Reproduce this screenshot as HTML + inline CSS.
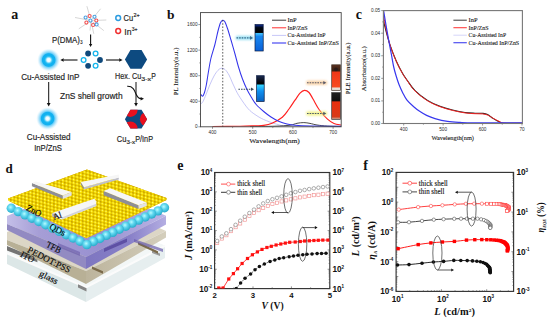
<!DOCTYPE html>
<html><head><meta charset="utf-8"><style>html,body{margin:0;padding:0;background:#fff;width:550px;height:321px;overflow:hidden}svg{display:block}</style></head>
<body><svg width="550" height="321" viewBox="0 0 550 321">
<rect width="550" height="321" fill="#fff"/>
<defs>
<radialGradient id="glow"><stop offset="0" stop-color="#ffffff"/><stop offset="0.15" stop-color="#e8f9ff"/><stop offset="0.3" stop-color="#38c4f4"/><stop offset="0.38" stop-color="#12b2f0"/><stop offset="0.55" stop-color="#12b0f0"/><stop offset="0.63" stop-color="#6ccef8"/><stop offset="0.8" stop-color="#a8e0fa" stop-opacity="0.7"/><stop offset="1" stop-color="#d8f2fe" stop-opacity="0"/></radialGradient>
<radialGradient id="ballg" cx="0.42" cy="0.38" r="0.65"><stop offset="0" stop-color="#b8fcff"/><stop offset="0.4" stop-color="#62d8f0"/><stop offset="1" stop-color="#22a8c8"/></radialGradient>
<radialGradient id="goldb" cx="0.42" cy="0.38" r="0.62"><stop offset="0" stop-color="#ffff90"/><stop offset="0.45" stop-color="#ffe800"/><stop offset="0.85" stop-color="#e8c800"/><stop offset="1" stop-color="#c8a400"/></radialGradient>
<pattern id="goldpat" patternUnits="userSpaceOnUse" width="36" height="34" patternTransform="matrix(0.1 0.025 0 0.1 0 0)"><rect width="36" height="34" fill="#c8a200"/><circle cx="18" cy="17" r="17.5" fill="url(#goldb)"/></pattern>
<linearGradient id="vialblue1" x1="0" y1="0" x2="0" y2="1"><stop offset="0" stop-color="#1030a0"/><stop offset="0.12" stop-color="#000814"/><stop offset="0.3" stop-color="#000"/><stop offset="0.34" stop-color="#40c0ff"/><stop offset="0.45" stop-color="#1888f0"/><stop offset="1" stop-color="#0a60d8"/></linearGradient>
<linearGradient id="vialblue2" x1="0" y1="0" x2="0" y2="1"><stop offset="0" stop-color="#1a2a50"/><stop offset="0.3" stop-color="#000"/><stop offset="0.38" stop-color="#30d0ff"/><stop offset="0.6" stop-color="#1090f0"/><stop offset="1" stop-color="#0860c0"/></linearGradient>
<linearGradient id="vialred1" x1="0" y1="0" x2="0" y2="1"><stop offset="0" stop-color="#5a3020"/><stop offset="0.22" stop-color="#3a2010"/><stop offset="0.3" stop-color="#f03818"/><stop offset="0.85" stop-color="#f84a20"/><stop offset="0.92" stop-color="#e8e0d8"/><stop offset="1" stop-color="#d8d0c8"/></linearGradient>
<linearGradient id="vialred2" x1="0" y1="0" x2="0" y2="1"><stop offset="0" stop-color="#202020"/><stop offset="0.3" stop-color="#101010"/><stop offset="0.35" stop-color="#e83010"/><stop offset="0.9" stop-color="#d83a18"/><stop offset="1" stop-color="#c0b0a0"/></linearGradient>
<linearGradient id="purpR" gradientUnits="userSpaceOnUse" x1="86" y1="0" x2="166" y2="0"><stop offset="0" stop-color="#7e76c0"/><stop offset="0.55" stop-color="#8880c8"/><stop offset="1" stop-color="#b4aee2"/></linearGradient>
<linearGradient id="tanR" gradientUnits="userSpaceOnUse" x1="86" y1="0" x2="166" y2="0"><stop offset="0" stop-color="#bcb49c"/><stop offset="1" stop-color="#d4cebc"/></linearGradient>
<linearGradient id="purpT" gradientUnits="userSpaceOnUse" x1="7" y1="0" x2="166" y2="0"><stop offset="0" stop-color="#c4bfe8"/><stop offset="0.2" stop-color="#a69ed6"/><stop offset="0.6" stop-color="#9890d0"/><stop offset="1" stop-color="#bcb6e6"/></linearGradient>
<filter id="blur1" x="-30%" y="-100%" width="160%" height="300%"><feGaussianBlur stdDeviation="0.9"/></filter>
<clipPath id="clipb"><rect x="200.5" y="12.6" width="140.7" height="114.2"/></clipPath>
<clipPath id="clipc"><rect x="383.4" y="10.6" width="139" height="112.9"/></clipPath>
<clipPath id="clipe"><rect x="214.6" y="172.5" width="115.2" height="116.1"/></clipPath>
</defs>
<text x="11.2" y="18.7" font-family="Liberation Serif" font-weight="bold" font-size="14" fill="#111">a</text>
<line x1="91" y1="20.5" x2="86.9" y2="6.2" stroke="#c4c4c4" stroke-width="0.7"/>
<line x1="91" y1="20.5" x2="100.6" y2="8.75" stroke="#c4c4c4" stroke-width="0.7"/>
<line x1="91" y1="20.5" x2="106.3" y2="20" stroke="#c4c4c4" stroke-width="0.7"/>
<line x1="91" y1="20.5" x2="103.8" y2="30.6" stroke="#c4c4c4" stroke-width="0.7"/>
<line x1="91" y1="20.5" x2="93.8" y2="33.8" stroke="#c4c4c4" stroke-width="0.7"/>
<line x1="91" y1="20.5" x2="90" y2="30.5" stroke="#c4c4c4" stroke-width="0.7"/>
<line x1="91" y1="20.5" x2="78.8" y2="28.8" stroke="#c4c4c4" stroke-width="0.7"/>
<line x1="91" y1="20.5" x2="75" y2="17.5" stroke="#c4c4c4" stroke-width="0.7"/>
<circle cx="85.6" cy="17.5" r="1.55" fill="#fff" stroke="#4aa0e0" stroke-width="1.1"/>
<circle cx="89.6" cy="16" r="1.55" fill="#fff" stroke="#f05050" stroke-width="1.1"/>
<circle cx="94.5" cy="16.8" r="1.55" fill="#fff" stroke="#4aa0e0" stroke-width="1.1"/>
<circle cx="90.4" cy="20.6" r="1.55" fill="#fff" stroke="#4aa0e0" stroke-width="1.1"/>
<circle cx="96.3" cy="20.6" r="1.55" fill="#fff" stroke="#f05050" stroke-width="1.1"/>
<circle cx="86.4" cy="22.6" r="1.55" fill="#fff" stroke="#f05050" stroke-width="1.1"/>
<circle cx="93.1" cy="25" r="1.55" fill="#fff" stroke="#f05050" stroke-width="1.1"/>
<circle cx="96.6" cy="24.4" r="1.55" fill="#fff" stroke="#4aa0e0" stroke-width="1.1"/>
<circle cx="118.2" cy="18" r="2.4" fill="#fff" stroke="#2c9ce0" stroke-width="1.5"/>
<circle cx="118.2" cy="31" r="2.4" fill="#fff" stroke="#f03030" stroke-width="1.5"/>
<line x1="90.6" y1="34.5" x2="90.6" y2="44" stroke="#111" stroke-width="1.1"/><polygon points="90.6,47 88.95,44 92.25,44" fill="#111"/>
<circle cx="88.1" cy="53.5" r="2.9" fill="#104a7c"/>
<circle cx="100" cy="60" r="2.9" fill="#104a7c"/>
<circle cx="88.1" cy="65.8" r="2.9" fill="#104a7c"/>
<circle cx="95.6" cy="53.5" r="2.35" fill="#fff" stroke="#14b4ec" stroke-width="1.3"/>
<circle cx="83.6" cy="60" r="2.35" fill="#fff" stroke="#14b4ec" stroke-width="1.3"/>
<circle cx="95.6" cy="65.8" r="2.35" fill="#fff" stroke="#14b4ec" stroke-width="1.3"/>
<line x1="77.5" y1="60" x2="63.7" y2="60" stroke="#111" stroke-width="1.1"/><polygon points="60.3,60 63.7,58.13 63.7,61.87" fill="#111"/>
<line x1="106" y1="60" x2="119.2" y2="60" stroke="#111" stroke-width="1.1"/><polygon points="122.6,60 119.2,61.87 119.2,58.13" fill="#111"/>
<polygon points="147.1,59.4 141.55,68.72 130.45,68.72 124.9,59.4 130.45,50.08 141.55,50.08" fill="#0d4a80"/>
<circle cx="48.7" cy="60" r="11.5" fill="url(#glow)"/>
<circle cx="47.6" cy="118.6" r="11.5" fill="url(#glow)"/>
<line x1="48.7" y1="82" x2="48.7" y2="103.1" stroke="#111" stroke-width="1.0"/><polygon points="48.7,106.5 46.83,103.1 50.57,103.1" fill="#111"/>
<line x1="136" y1="82" x2="136" y2="103.1" stroke="#111" stroke-width="1.0"/><polygon points="136,106.5 134.13,103.1 137.87,103.1" fill="#111"/>
<path d="M127.2,86.3 C133,86 134.5,90 136,94 C137.5,97.5 139,98.6 141,98.6" fill="none" stroke="#111" stroke-width="1.1"/>
<polygon points="144,98.8 140.6,96.9 140.6,100.6" fill="#111"/>
<clipPath id="hexclip"><polygon points="147.1,119.2 141.55,128.62 130.45,128.62 124.9,119.2 130.45,109.78 141.55,109.78"/></clipPath>
<polygon points="147.1,119.2 141.55,128.62 130.45,128.62 124.9,119.2 130.45,109.78 141.55,109.78" fill="#0d4a80"/>
<g clip-path="url(#hexclip)" fill="#e8101e">
<circle cx="130.45" cy="109.78" r="7.2"/>
<circle cx="147.1" cy="119.2" r="7.2"/>
<circle cx="130.45" cy="128.62" r="7.2"/>
</g>
<text x="123.5" y="20.7" font-family="Liberation Sans" fill="#262626" stroke="#262626" stroke-width="0.18" font-size="8.6" textLength="9.6" lengthAdjust="spacingAndGlyphs">Cu</text>
<text x="133.4" y="17.2" font-family="Liberation Sans" fill="#262626" stroke="#262626" stroke-width="0.18" font-size="5" textLength="6.2" lengthAdjust="spacingAndGlyphs">2+</text>
<text x="124.3" y="34.5" font-family="Liberation Sans" fill="#262626" stroke="#262626" stroke-width="0.18" font-size="8.6" textLength="7.2" lengthAdjust="spacingAndGlyphs">In</text>
<text x="131.8" y="31" font-family="Liberation Sans" fill="#262626" stroke="#262626" stroke-width="0.18" font-size="5" textLength="5.8" lengthAdjust="spacingAndGlyphs">3+</text>
<text x="52" y="43.1" font-family="Liberation Sans" fill="#262626" stroke="#262626" stroke-width="0.18" font-size="8.6" textLength="28" lengthAdjust="spacingAndGlyphs">P(DMA)</text>
<text x="80.2" y="44.2" font-family="Liberation Sans" fill="#262626" stroke="#262626" stroke-width="0.18" font-size="5" textLength="2.3" lengthAdjust="spacingAndGlyphs">3</text>
<text x="21.2" y="79.5" font-family="Liberation Sans" fill="#262626" stroke="#262626" stroke-width="0.18" font-size="8.6" textLength="58.2" lengthAdjust="spacingAndGlyphs">Cu-Assisted InP</text>
<text x="115.1" y="79.2" font-family="Liberation Sans" fill="#262626" stroke="#262626" stroke-width="0.18" font-size="8.6" textLength="26.1" lengthAdjust="spacingAndGlyphs">Hex. Cu</text>
<text x="141.3" y="80.6" font-family="Liberation Sans" fill="#262626" stroke="#262626" stroke-width="0.18" font-size="5" textLength="9.8" lengthAdjust="spacingAndGlyphs">3-x</text>
<text x="151.3" y="79.2" font-family="Liberation Sans" fill="#262626" stroke="#262626" stroke-width="0.18" font-size="8.6" textLength="4.6" lengthAdjust="spacingAndGlyphs">P</text>
<text x="60" y="99.2" font-family="Liberation Sans" fill="#262626" stroke="#262626" stroke-width="0.18" font-size="8.6" textLength="62.6" lengthAdjust="spacingAndGlyphs">ZnS shell growth</text>
<text x="26.8" y="139.9" font-family="Liberation Sans" fill="#262626" stroke="#262626" stroke-width="0.18" font-size="8.6" textLength="43.6" lengthAdjust="spacingAndGlyphs">Cu-Assisted</text>
<text x="34.2" y="151.4" font-family="Liberation Sans" fill="#262626" stroke="#262626" stroke-width="0.18" font-size="8.6" textLength="27.8" lengthAdjust="spacingAndGlyphs">InP/ZnS</text>
<text x="116.8" y="142.4" font-family="Liberation Sans" fill="#262626" stroke="#262626" stroke-width="0.18" font-size="8.6" textLength="9.6" lengthAdjust="spacingAndGlyphs">Cu</text>
<text x="126.5" y="144.3" font-family="Liberation Sans" fill="#262626" stroke="#262626" stroke-width="0.18" font-size="5" textLength="8.6" lengthAdjust="spacingAndGlyphs">3-x</text>
<text x="135.2" y="142.4" font-family="Liberation Sans" fill="#262626" stroke="#262626" stroke-width="0.18" font-size="8.6" textLength="17.8" lengthAdjust="spacingAndGlyphs">P/InP</text>
<text x="167" y="18.7" font-family="Liberation Serif" font-weight="bold" font-size="13.5" fill="#111">b</text>
<line x1="198.3" y1="126.8" x2="200.5" y2="126.8" stroke="#555" stroke-width="0.6"/>
<text x="197.5" y="128.3" font-family="Liberation Sans" font-size="4.7" fill="#2a2a2a" text-anchor="end">0</text>
<line x1="198.3" y1="101.25" x2="200.5" y2="101.25" stroke="#555" stroke-width="0.6"/>
<text x="197.5" y="102.75" font-family="Liberation Sans" font-size="4.7" fill="#2a2a2a" text-anchor="end">400</text>
<line x1="198.3" y1="75.7" x2="200.5" y2="75.7" stroke="#555" stroke-width="0.6"/>
<text x="197.5" y="77.2" font-family="Liberation Sans" font-size="4.7" fill="#2a2a2a" text-anchor="end">800</text>
<line x1="198.3" y1="50.14" x2="200.5" y2="50.14" stroke="#555" stroke-width="0.6"/>
<text x="197.5" y="51.64" font-family="Liberation Sans" font-size="4.7" fill="#2a2a2a" text-anchor="end">1200</text>
<line x1="198.3" y1="24.59" x2="200.5" y2="24.59" stroke="#555" stroke-width="0.6"/>
<text x="197.5" y="26.09" font-family="Liberation Sans" font-size="4.7" fill="#2a2a2a" text-anchor="end">1600</text>
<line x1="199.2" y1="114.02" x2="200.5" y2="114.02" stroke="#555" stroke-width="0.5"/>
<line x1="199.2" y1="88.47" x2="200.5" y2="88.47" stroke="#555" stroke-width="0.5"/>
<line x1="199.2" y1="62.92" x2="200.5" y2="62.92" stroke="#555" stroke-width="0.5"/>
<line x1="199.2" y1="37.37" x2="200.5" y2="37.37" stroke="#555" stroke-width="0.5"/>
<line x1="212.5" y1="126.8" x2="212.5" y2="128.8" stroke="#555" stroke-width="0.6"/>
<text x="212.5" y="133.6" font-family="Liberation Sans" font-size="4.7" fill="#2a2a2a" text-anchor="middle">400</text>
<line x1="252.7" y1="126.8" x2="252.7" y2="128.8" stroke="#555" stroke-width="0.6"/>
<text x="252.7" y="133.6" font-family="Liberation Sans" font-size="4.7" fill="#2a2a2a" text-anchor="middle">500</text>
<line x1="292.9" y1="126.8" x2="292.9" y2="128.8" stroke="#555" stroke-width="0.6"/>
<text x="292.9" y="133.6" font-family="Liberation Sans" font-size="4.7" fill="#2a2a2a" text-anchor="middle">600</text>
<line x1="333.1" y1="126.8" x2="333.1" y2="128.8" stroke="#555" stroke-width="0.6"/>
<text x="333.1" y="133.6" font-family="Liberation Sans" font-size="4.7" fill="#2a2a2a" text-anchor="middle">700</text>
<line x1="232.6" y1="126.8" x2="232.6" y2="128.1" stroke="#555" stroke-width="0.5"/>
<line x1="272.8" y1="126.8" x2="272.8" y2="128.1" stroke="#555" stroke-width="0.5"/>
<line x1="313" y1="126.8" x2="313" y2="128.1" stroke="#555" stroke-width="0.5"/>
<text x="249.3" y="143.2" font-family="Liberation Serif" font-size="6" fill="#1a1a1a" stroke="#1a1a1a" stroke-width="0.1" textLength="50.5" lengthAdjust="spacingAndGlyphs">Wavelength(nm)</text>
<text transform="translate(178.3,71.4) rotate(-90)" font-family="Liberation Serif" font-size="6" fill="#1a1a1a" stroke="#1a1a1a" stroke-width="0.1" text-anchor="middle" textLength="47.8" lengthAdjust="spacingAndGlyphs">PL Intensity(a.u.)</text>
<text transform="translate(349.6,68.4) rotate(-90)" font-family="Liberation Serif" font-size="6" fill="#1a1a1a" stroke="#1a1a1a" stroke-width="0.1" text-anchor="middle" textLength="51.8" lengthAdjust="spacingAndGlyphs">PLE Intensity(a.u.)</text>
<g fill="none" clip-path="url(#clipb)">
<path d="M200.6,104.2 C201,103.75 202.1,103.12 203,101.5 C203.9,99.88 204.83,97.33 206,94.5 C207.17,91.67 208.67,87.58 210,84.5 C211.33,81.42 212.67,78.37 214,76 C215.33,73.63 216.78,71.58 218,70.3 C219.22,69.02 220.13,68.43 221.3,68.3 C222.47,68.17 223.72,68.38 225,69.5 C226.28,70.62 227.75,72.75 229,75 C230.25,77.25 231.33,80.42 232.5,83 C233.67,85.58 234.75,88.08 236,90.5 C237.25,92.92 238,94.48 240,97.5 C242,100.52 245.5,105.77 248,108.6 C250.5,111.43 252.38,112.68 255,114.5 C257.62,116.32 260.08,117.88 263.7,119.5 C267.32,121.12 272.32,123.12 276.7,124.2 C281.08,125.28 279.28,125.63 290,126 C300.72,126.37 332.5,126.33 341,126.4" stroke="#b8b8f4" stroke-width="0.8"/>
<path d="M250,126.5 C254.17,126.45 268.33,126.42 275,126.2 C281.67,125.98 286.33,125.68 290,125.2 C293.67,124.72 294.7,123.73 297,123.3 C299.3,122.87 301.63,122.58 303.8,122.6 C305.97,122.62 307.8,123 310,123.4 C312.2,123.8 314.08,124.55 317,125 C319.92,125.45 323.5,125.85 327.5,126.1 C331.5,126.35 338.75,126.43 341,126.5" stroke="#333" stroke-width="0.9"/>
<path d="M212.5,126.5 C217.08,126.47 232.92,126.42 240,126.3 C247.08,126.18 251.05,125.95 255,125.8 C258.95,125.65 260.87,125.83 263.7,125.4 C266.53,124.97 268.9,124.57 272,123.2 C275.1,121.83 279.47,119.57 282.3,117.2 C285.13,114.83 286.88,111.83 289,109 C291.12,106.17 293.17,102.83 295,100.2 C296.83,97.57 298.42,94.83 300,93.2 C301.58,91.57 303,90.52 304.5,90.4 C306,90.28 307.58,91.07 309,92.5 C310.42,93.93 311.27,96.08 313,99 C314.73,101.92 316.98,106.63 319.4,110 C321.82,113.37 325.07,116.95 327.5,119.2 C329.93,121.45 331.75,122.53 334,123.5 C336.25,124.47 339.83,124.75 341,125" stroke="#ff2020" stroke-width="1.15"/>
<path d="M200.6,94 C200.92,94.38 201.85,96.55 202.5,96.3 C203.15,96.05 203.87,94.38 204.5,92.5 C205.13,90.62 205.65,88.42 206.3,85 C206.95,81.58 207.62,76.5 208.4,72 C209.18,67.5 209.92,62.58 211,58 C212.08,53.42 213.73,49 214.9,44.5 C216.07,40 217.07,34.62 218,31 C218.93,27.38 219.73,24.58 220.5,22.8 C221.27,21.02 221.9,20.52 222.6,20.3 C223.3,20.08 223.88,20.13 224.7,21.5 C225.52,22.87 226.45,25.42 227.5,28.5 C228.55,31.58 229.75,35.75 231,40 C232.25,44.25 233.75,49.5 235,54 C236.25,58.5 237.25,62.83 238.5,67 C239.75,71.17 241.08,75.25 242.5,79 C243.92,82.75 245.5,86.42 247,89.5 C248.5,92.58 249.97,95 251.5,97.5 C253.03,100 254.17,102.17 256.2,104.5 C258.23,106.83 261.23,109.42 263.7,111.5 C266.17,113.58 268.52,115.38 271,117 C273.48,118.62 275.93,120.03 278.6,121.2 C281.27,122.37 284.27,123.32 287,124 C289.73,124.68 291.17,124.97 295,125.3 C298.83,125.63 302.33,125.83 310,126 C317.67,126.17 335.83,126.25 341,126.3" stroke="#3434ea" stroke-width="1.05"/>
</g>
<line x1="222.75" y1="20" x2="222.75" y2="126.8" stroke="#333" stroke-width="0.8" stroke-dasharray="1.6,1.6"/>
<rect x="200.5" y="12.6" width="140.7" height="114.2" fill="none" stroke="#444" stroke-width="0.9"/>
<line x1="272" y1="20.2" x2="286.2" y2="20.2" stroke="#222" stroke-width="0.9"/>
<line x1="272" y1="27.8" x2="286.2" y2="27.8" stroke="#ff3030" stroke-width="1"/>
<line x1="272" y1="35.4" x2="286.2" y2="35.4" stroke="#c8c8f8" stroke-width="1"/>
<line x1="272" y1="43" x2="286.2" y2="43" stroke="#3a3af0" stroke-width="1.1"/>
<text x="287.6" y="22" font-family="Liberation Serif" font-size="5.3" fill="#1a1a1a" stroke="#1a1a1a" stroke-width="0.1" textLength="9" lengthAdjust="spacingAndGlyphs">InP</text>
<text x="287.6" y="29.6" font-family="Liberation Serif" font-size="5.3" fill="#1a1a1a" stroke="#1a1a1a" stroke-width="0.1" textLength="20" lengthAdjust="spacingAndGlyphs">InP/ZnS</text>
<text x="287.6" y="37.3" font-family="Liberation Serif" font-size="5.3" fill="#1a1a1a" stroke="#1a1a1a" stroke-width="0.1" textLength="38" lengthAdjust="spacingAndGlyphs">Cu-Assisted InP</text>
<text x="287.6" y="44.8" font-family="Liberation Serif" font-size="5.3" fill="#1a1a1a" stroke="#1a1a1a" stroke-width="0.1" textLength="51.2" lengthAdjust="spacingAndGlyphs">Cu-Assisted InP/ZnS</text>
<rect x="255" y="24.5" width="8.2" height="26.5" fill="url(#vialblue1)" stroke="#0a1a40" stroke-width="0.7"/>
<rect x="256.6" y="75.7" width="7.6" height="25.8" fill="url(#vialblue2)" stroke="#0a1a40" stroke-width="0.7"/>
<rect x="331.7" y="64.8" width="8.7" height="25.6" fill="url(#vialred1)" stroke="#4a3a30" stroke-width="0.7"/>
<circle cx="336" cy="69.3" r="1.9" fill="#2a1a1a"/>
<rect x="331.7" y="92.6" width="8.7" height="26.8" fill="url(#vialred2)" stroke="#3a3a3a" stroke-width="0.7"/>
<rect x="235.5" y="35.7" width="18.5" height="4.4" rx="2" fill="#80d8f0" opacity="0.75" filter="url(#blur1)"/><line x1="236.5" y1="37.9" x2="250.5" y2="37.9" stroke="#3a6a8a" stroke-width="1.1" stroke-dasharray="1.6,1"/><polygon points="253,37.9 250,36.1 250,39.7" fill="#3a6a8a"/>
<line x1="238.4" y1="89.2" x2="251.5" y2="89.2" stroke="#3a4a5a" stroke-width="1.1" stroke-dasharray="1.6,1"/><polygon points="254,89.2 251,87.4 251,91" fill="#3a4a5a"/>
<rect x="306" y="80.5" width="21.3" height="4.4" rx="2" fill="#f8c890" opacity="0.75" filter="url(#blur1)"/><line x1="307" y1="82.7" x2="323.8" y2="82.7" stroke="#5a5a6a" stroke-width="1.1" stroke-dasharray="1.6,1"/><polygon points="326.3,82.7 323.3,80.9 323.3,84.5" fill="#5a5a6a"/>
<rect x="306" y="111.3" width="21.3" height="4.4" rx="2" fill="#f0f070" opacity="0.75" filter="url(#blur1)"/><line x1="307" y1="113.5" x2="323.8" y2="113.5" stroke="#4a5a6a" stroke-width="1.1" stroke-dasharray="1.6,1"/><polygon points="326.3,113.5 323.3,111.7 323.3,115.3" fill="#4a5a6a"/>
<text x="355.7" y="18.9" font-family="Liberation Serif" font-weight="bold" font-size="14" fill="#111">c</text>
<line x1="381.2" y1="123.5" x2="383.4" y2="123.5" stroke="#555" stroke-width="0.6"/>
<text x="380.2" y="125" font-family="Liberation Sans" font-size="4.7" fill="#2a2a2a" text-anchor="end">0.00</text>
<line x1="382.09999999999997" y1="112.21" x2="383.4" y2="112.21" stroke="#555" stroke-width="0.5"/>
<line x1="381.2" y1="100.92" x2="383.4" y2="100.92" stroke="#555" stroke-width="0.6"/>
<text x="380.2" y="102.42" font-family="Liberation Sans" font-size="4.7" fill="#2a2a2a" text-anchor="end">0.01</text>
<line x1="382.09999999999997" y1="89.63" x2="383.4" y2="89.63" stroke="#555" stroke-width="0.5"/>
<line x1="381.2" y1="78.34" x2="383.4" y2="78.34" stroke="#555" stroke-width="0.6"/>
<text x="380.2" y="79.84" font-family="Liberation Sans" font-size="4.7" fill="#2a2a2a" text-anchor="end">0.02</text>
<line x1="382.09999999999997" y1="67.05" x2="383.4" y2="67.05" stroke="#555" stroke-width="0.5"/>
<line x1="381.2" y1="55.76" x2="383.4" y2="55.76" stroke="#555" stroke-width="0.6"/>
<text x="380.2" y="57.26" font-family="Liberation Sans" font-size="4.7" fill="#2a2a2a" text-anchor="end">0.03</text>
<line x1="382.09999999999997" y1="44.47" x2="383.4" y2="44.47" stroke="#555" stroke-width="0.5"/>
<line x1="381.2" y1="33.18" x2="383.4" y2="33.18" stroke="#555" stroke-width="0.6"/>
<text x="380.2" y="34.68" font-family="Liberation Sans" font-size="4.7" fill="#2a2a2a" text-anchor="end">0.04</text>
<line x1="382.09999999999997" y1="21.89" x2="383.4" y2="21.89" stroke="#555" stroke-width="0.5"/>
<line x1="381.2" y1="10.6" x2="383.4" y2="10.6" stroke="#555" stroke-width="0.6"/>
<text x="380.2" y="12.1" font-family="Liberation Sans" font-size="4.7" fill="#2a2a2a" text-anchor="end">0.05</text>
<line x1="403.7" y1="123.5" x2="403.7" y2="125.5" stroke="#555" stroke-width="0.6"/>
<text x="403.7" y="130.5" font-family="Liberation Sans" font-size="4.7" fill="#2a2a2a" text-anchor="middle">400</text>
<line x1="443.13" y1="123.5" x2="443.13" y2="125.5" stroke="#555" stroke-width="0.6"/>
<text x="443.13" y="130.5" font-family="Liberation Sans" font-size="4.7" fill="#2a2a2a" text-anchor="middle">500</text>
<line x1="482.56" y1="123.5" x2="482.56" y2="125.5" stroke="#555" stroke-width="0.6"/>
<text x="482.56" y="130.5" font-family="Liberation Sans" font-size="4.7" fill="#2a2a2a" text-anchor="middle">600</text>
<line x1="521.99" y1="123.5" x2="521.99" y2="125.5" stroke="#555" stroke-width="0.6"/>
<text x="521.99" y="130.5" font-family="Liberation Sans" font-size="4.7" fill="#2a2a2a" text-anchor="middle">70</text>
<line x1="423.41" y1="123.5" x2="423.41" y2="124.8" stroke="#555" stroke-width="0.5"/>
<line x1="462.84" y1="123.5" x2="462.84" y2="124.8" stroke="#555" stroke-width="0.5"/>
<line x1="502.27" y1="123.5" x2="502.27" y2="124.8" stroke="#555" stroke-width="0.5"/>
<text x="431.4" y="140" font-family="Liberation Serif" font-size="6" fill="#1a1a1a" stroke="#1a1a1a" stroke-width="0.1" textLength="42.6" lengthAdjust="spacingAndGlyphs">Wavelength(nm)</text>
<text transform="translate(365.8,68.7) rotate(-90)" font-family="Liberation Serif" font-size="6" fill="#1a1a1a" stroke="#1a1a1a" stroke-width="0.1" text-anchor="middle" textLength="45" lengthAdjust="spacingAndGlyphs">Absorbance(a.u.)</text>
<g fill="none" clip-path="url(#clipc)">
<path d="M383.5,21 C383.92,22.67 384.92,27 386,31 C387.08,35 388.29,40 390,45 C391.71,50 394.17,56.3 396.25,61 C398.33,65.7 400.62,69.92 402.5,73.2 C404.38,76.48 405.42,77.8 407.5,80.7 C409.58,83.6 411.67,87.32 415,90.6 C418.33,93.88 423.33,97.78 427.5,100.4 C431.67,103.02 435.83,104.7 440,106.3 C444.17,107.9 448.33,108.97 452.5,110 C456.67,111.03 461.25,111.97 465,112.5 C468.75,113.03 472.08,113.07 475,113.2 C477.92,113.33 480.42,113.1 482.5,113.3 C484.58,113.5 485.75,113.55 487.5,114.4 C489.25,115.25 491.08,117.17 493,118.4 C494.92,119.63 497.17,121 499,121.8 C500.83,122.6 500.1,122.97 504,123.2 C507.9,123.43 519.33,123.2 522.4,123.2" stroke="#222" stroke-width="1.1"/>
<path d="M383.8,16 C384.17,18.17 384.97,24.17 386,29 C387.03,33.83 388.29,39.62 390,45 C391.71,50.38 394.17,56.5 396.25,61.25 C398.33,66 400.62,70.21 402.5,73.5 C404.38,76.79 405.42,78.08 407.5,81 C409.58,83.92 411.67,87.7 415,91 C418.33,94.3 423.33,98.18 427.5,100.8 C431.67,103.42 435.83,105.1 440,106.7 C444.17,108.3 448.33,109.37 452.5,110.4 C456.67,111.43 461.25,112.35 465,112.9 C468.75,113.45 472.08,113.53 475,113.7 C477.92,113.87 480.42,113.68 482.5,113.9 C484.58,114.12 485.62,114.22 487.5,115 C489.38,115.78 491.67,117.47 493.75,118.6 C495.83,119.73 498.12,121.03 500,121.8 C501.88,122.57 501.27,122.97 505,123.2 C508.73,123.43 519.5,123.2 522.4,123.2" stroke="#f02020" stroke-width="1.0"/>
<path d="M383.6,10.6 C384,13 385.07,19.6 386,25 C386.93,30.4 388.28,38 389.2,43 C390.12,48 390.77,51.08 391.5,55 C392.23,58.92 392.85,63.08 393.6,66.5 C394.35,69.92 395.1,72.5 396,75.5 C396.9,78.5 397.87,81.6 399,84.5 C400.13,87.4 401.47,90.28 402.8,92.9 C404.13,95.52 405.23,97.93 407,100.2 C408.77,102.47 411.23,104.6 413.4,106.5 C415.57,108.4 417.8,110.12 420,111.6 C422.2,113.08 424.1,114.23 426.6,115.4 C429.1,116.57 431.52,117.6 435,118.6 C438.48,119.6 443.33,120.77 447.5,121.4 C451.67,122.03 455.42,122.17 460,122.4 C464.58,122.63 464.6,122.72 475,122.8 C485.4,122.88 514.5,122.88 522.4,122.9" stroke="#3838ee" stroke-width="1.2"/>
</g>
<rect x="383.4" y="10.6" width="139" height="112.9" fill="none" stroke="#777" stroke-width="1.1"/>
<line x1="453.4" y1="20.2" x2="466.8" y2="20.2" stroke="#222" stroke-width="0.9"/>
<line x1="453.4" y1="27.7" x2="466.8" y2="27.7" stroke="#ff4040" stroke-width="1.1"/>
<line x1="453.4" y1="35.2" x2="466.8" y2="35.2" stroke="#d0d0f8" stroke-width="0.9"/>
<line x1="453.4" y1="42.7" x2="466.8" y2="42.7" stroke="#5050f0" stroke-width="1.2"/>
<text x="468.6" y="22" font-family="Liberation Serif" font-size="5.3" fill="#1a1a1a" stroke="#1a1a1a" stroke-width="0.1" textLength="9" lengthAdjust="spacingAndGlyphs">InP</text>
<text x="468.6" y="29.6" font-family="Liberation Serif" font-size="5.3" fill="#1a1a1a" stroke="#1a1a1a" stroke-width="0.1" textLength="20" lengthAdjust="spacingAndGlyphs">InP/ZnS</text>
<text x="468.6" y="37.2" font-family="Liberation Serif" font-size="5.3" fill="#1a1a1a" stroke="#1a1a1a" stroke-width="0.1" textLength="37.5" lengthAdjust="spacingAndGlyphs">Cu-Assisted InP</text>
<text x="468.6" y="44.6" font-family="Liberation Serif" font-size="5.3" fill="#1a1a1a" stroke="#1a1a1a" stroke-width="0.1" textLength="50.6" lengthAdjust="spacingAndGlyphs">Cu-Assisted InP/ZnS</text>
<text x="5.6" y="173.4" font-family="Liberation Serif" font-weight="bold" font-size="13" fill="#111">d</text>
<polygon points="7,251 86,214 165,245.5 86,287 7,253" fill="#f3f7f7" />
<polygon points="7,253 86,287 86,302 7,264" fill="#dce7e7" />
<polygon points="86,287 165,245.5 165,258 86,302" fill="#e6eeef" />
<polyline points="7,253.2 86,287.4 165,245.9" fill="none" stroke="#fbfbfb" stroke-width="2.2"/>
<polygon points="7,246 37.4,258.6 37.4,262.2 7,250.5" fill="#747474" />
<polygon points="78,284.3 86.5,288.2 86.5,291.5 78,287.6" fill="#858585" />
<polygon points="152,250.5 160,253.5 160,256 152,253" fill="#9a9a9a" />
<polygon points="7,232 87,196 166,231 86,271 7,240" fill="#dcd6c6" />
<polygon points="7,240 86,271 86,284 7,245" fill="#b8b096" />
<polygon points="86,271 166,231 166,237.5 86,284" fill="url(#tanR)" />
<polygon points="92,266.5 103,271.3 103,273.8 92,269" fill="#7a6a4a" />
<polygon points="138,242 158,251.3 158,253.8 138,244.5" fill="#7a6a4a" />
<polygon points="40,252 70,265 70,267.5 40,254.5" fill="#9a9280" opacity="0.5"/>
<polygon points="7,216 87,182 166,215.7 86,257 7,224" fill="url(#purpT)" />
<polygon points="7,224 86,257 86,269 7,230" fill="#928ac2" />
<polygon points="86,257 166,215.7 166,224.4 86,269" fill="url(#purpR)" />
<polygon points="104,248.5 127,238.5 127,242 104,252" fill="#5e50a4" />
<polygon points="134,239 163,249 163,252 134,242" fill="#6a5cac" opacity="0.7"/>
<polygon points="58,243 80,252 80,256 58,247" fill="#6a5ca8" opacity="0.6"/>
<circle cx="164.5" cy="207.8" r="4.7" fill="url(#ballg)"/>
<circle cx="11.3" cy="208.3" r="4.7" fill="url(#ballg)"/>
<circle cx="158.03" cy="210.87" r="4.7" fill="url(#ballg)"/>
<circle cx="18.17" cy="211.6" r="4.7" fill="url(#ballg)"/>
<circle cx="151.57" cy="213.93" r="4.7" fill="url(#ballg)"/>
<circle cx="25.05" cy="214.9" r="4.7" fill="url(#ballg)"/>
<circle cx="145.1" cy="217" r="4.7" fill="url(#ballg)"/>
<circle cx="31.92" cy="218.2" r="4.7" fill="url(#ballg)"/>
<circle cx="138.63" cy="220.07" r="4.7" fill="url(#ballg)"/>
<circle cx="38.79" cy="221.5" r="4.7" fill="url(#ballg)"/>
<circle cx="132.17" cy="223.13" r="4.7" fill="url(#ballg)"/>
<circle cx="45.66" cy="224.8" r="4.7" fill="url(#ballg)"/>
<circle cx="125.7" cy="226.2" r="4.7" fill="url(#ballg)"/>
<circle cx="52.54" cy="228.1" r="4.7" fill="url(#ballg)"/>
<circle cx="119.23" cy="229.27" r="4.7" fill="url(#ballg)"/>
<circle cx="59.41" cy="231.4" r="4.7" fill="url(#ballg)"/>
<circle cx="112.77" cy="232.33" r="4.7" fill="url(#ballg)"/>
<circle cx="66.28" cy="234.7" r="4.7" fill="url(#ballg)"/>
<circle cx="106.3" cy="235.4" r="4.7" fill="url(#ballg)"/>
<circle cx="73.15" cy="238" r="4.7" fill="url(#ballg)"/>
<circle cx="99.83" cy="238.47" r="4.7" fill="url(#ballg)"/>
<circle cx="80.03" cy="241.3" r="4.7" fill="url(#ballg)"/>
<circle cx="93.37" cy="241.53" r="4.7" fill="url(#ballg)"/>
<circle cx="86.9" cy="244.6" r="4.7" fill="url(#ballg)"/>
<polygon points="87,169.4 166.5,198 166.5,200 86.3,238.3 8,200.5 8,198.5" fill="#c89400" />
<polygon points="87,169.4 166.5,198 166.5,200 86.3,238.3 8,200.5 8,198.5" fill="url(#goldpat)" />
<polygon points="32,183 62.9,195.6 62.9,199.1 31.9,186.2" fill="#8e8e96" />
<polygon points="32,183 36,181.4 71.6,192.1 62.9,195.6" fill="#f6f6f6" />
<polygon points="62.9,195.6 71.6,192.1 71.6,195.6 62.9,199.1" fill="#e2e2e6" />
<polygon points="84,187.3 118.8,177.4 118.8,179.4 84,189.6" fill="#c0c0c8" />
<polygon points="80.8,182 84,187.3 84,189.6 80.8,184.6" fill="#8e8e96" />
<polygon points="80.8,182 118.8,174.5 118.8,177.4 84,187.3" fill="#f6f6f6" />
<polygon points="103.7,191.1 138.6,205.3 138.6,209 103.7,195.2" fill="#8e8e96" />
<polygon points="103.7,191.1 110.3,188.3 146.7,202.5 138.6,205.3" fill="#f6f6f6" />
<polygon points="138.6,205.3 146.7,202.5 146.7,206 138.6,209" fill="#e2e2e6" />
<polygon points="52.3,213 94.3,198.8 96.2,201.3 96.2,205.9 61.7,219.6 52.3,216.2" fill="#f6f6f6" />
<polygon points="61.7,217.4 96.2,203.8 96.2,205.9 61.7,219.6" fill="#d4d4da" />
<polygon points="52.3,213 56,214.8 56,218.3 52.3,216.2" fill="#a8a8b0" />
<text transform="translate(32.6,213.4) rotate(27)" font-family="Liberation Serif" font-size="9" fill="#0a0a0a" stroke="#0a0a0a" stroke-width="0.15" text-anchor="middle" textLength="16" lengthAdjust="spacingAndGlyphs">ZnO</text>
<text transform="translate(58.2,218.6) rotate(-19)" font-family="Liberation Serif" font-size="9" fill="#0a0a0a" stroke="#0a0a0a" stroke-width="0.15" text-anchor="middle" textLength="9" lengthAdjust="spacingAndGlyphs">Al</text>
<text transform="translate(56.2,232.4) rotate(27)" font-family="Liberation Serif" font-size="9" fill="#0a0a0a" stroke="#0a0a0a" stroke-width="0.15" text-anchor="middle" textLength="17" lengthAdjust="spacingAndGlyphs">QDs</text>
<text transform="translate(52.4,250) rotate(27)" font-family="Liberation Serif" font-size="9" fill="#0a0a0a" stroke="#0a0a0a" stroke-width="0.15" text-anchor="middle" textLength="15.5" lengthAdjust="spacingAndGlyphs">TFB</text>
<text transform="translate(47.8,262.5) rotate(27)" font-family="Liberation Serif" font-size="9" fill="#0a0a0a" stroke="#0a0a0a" stroke-width="0.15" text-anchor="middle" textLength="47" lengthAdjust="spacingAndGlyphs">PEDOT:PSS</text>
<text transform="translate(26.2,259.6) rotate(27)" font-family="Liberation Serif" font-size="9" fill="#0a0a0a" stroke="#0a0a0a" stroke-width="0.15" text-anchor="middle" textLength="14.5" lengthAdjust="spacingAndGlyphs">ITO</text>
<text transform="translate(47.4,280) rotate(27)" font-family="Liberation Serif" font-size="9" fill="#0a0a0a" stroke="#0a0a0a" stroke-width="0.15" text-anchor="middle" textLength="20" lengthAdjust="spacingAndGlyphs">glass</text>
<text x="177.2" y="169.5" font-family="Liberation Serif" font-weight="bold" font-size="14" fill="#111">e</text>
<rect x="214.6" y="172.5" width="115.2" height="116.1" fill="none" stroke="#333" stroke-width="1.15"/>
<line x1="214.6" y1="288.6" x2="216.8" y2="288.6" stroke="#444" stroke-width="0.55"/>
<line x1="329.8" y1="288.6" x2="327.6" y2="288.6" stroke="#444" stroke-width="0.55"/>
<line x1="214.6" y1="282.78" x2="215.8" y2="282.78" stroke="#444" stroke-width="0.55"/>
<line x1="329.8" y1="282.78" x2="328.6" y2="282.78" stroke="#444" stroke-width="0.55"/>
<line x1="214.6" y1="279.37" x2="215.8" y2="279.37" stroke="#444" stroke-width="0.55"/>
<line x1="329.8" y1="279.37" x2="328.6" y2="279.37" stroke="#444" stroke-width="0.55"/>
<line x1="214.6" y1="276.95" x2="215.8" y2="276.95" stroke="#444" stroke-width="0.55"/>
<line x1="329.8" y1="276.95" x2="328.6" y2="276.95" stroke="#444" stroke-width="0.55"/>
<line x1="214.6" y1="275.07" x2="215.8" y2="275.07" stroke="#444" stroke-width="0.55"/>
<line x1="329.8" y1="275.07" x2="328.6" y2="275.07" stroke="#444" stroke-width="0.55"/>
<line x1="214.6" y1="273.54" x2="215.8" y2="273.54" stroke="#444" stroke-width="0.55"/>
<line x1="329.8" y1="273.54" x2="328.6" y2="273.54" stroke="#444" stroke-width="0.55"/>
<line x1="214.6" y1="272.25" x2="215.8" y2="272.25" stroke="#444" stroke-width="0.55"/>
<line x1="329.8" y1="272.25" x2="328.6" y2="272.25" stroke="#444" stroke-width="0.55"/>
<line x1="214.6" y1="271.13" x2="215.8" y2="271.13" stroke="#444" stroke-width="0.55"/>
<line x1="329.8" y1="271.13" x2="328.6" y2="271.13" stroke="#444" stroke-width="0.55"/>
<line x1="214.6" y1="270.14" x2="215.8" y2="270.14" stroke="#444" stroke-width="0.55"/>
<line x1="329.8" y1="270.14" x2="328.6" y2="270.14" stroke="#444" stroke-width="0.55"/>
<line x1="214.6" y1="269.25" x2="216.8" y2="269.25" stroke="#444" stroke-width="0.55"/>
<line x1="329.8" y1="269.25" x2="327.6" y2="269.25" stroke="#444" stroke-width="0.55"/>
<line x1="214.6" y1="263.43" x2="215.8" y2="263.43" stroke="#444" stroke-width="0.55"/>
<line x1="329.8" y1="263.43" x2="328.6" y2="263.43" stroke="#444" stroke-width="0.55"/>
<line x1="214.6" y1="260.02" x2="215.8" y2="260.02" stroke="#444" stroke-width="0.55"/>
<line x1="329.8" y1="260.02" x2="328.6" y2="260.02" stroke="#444" stroke-width="0.55"/>
<line x1="214.6" y1="257.6" x2="215.8" y2="257.6" stroke="#444" stroke-width="0.55"/>
<line x1="329.8" y1="257.6" x2="328.6" y2="257.6" stroke="#444" stroke-width="0.55"/>
<line x1="214.6" y1="255.72" x2="215.8" y2="255.72" stroke="#444" stroke-width="0.55"/>
<line x1="329.8" y1="255.72" x2="328.6" y2="255.72" stroke="#444" stroke-width="0.55"/>
<line x1="214.6" y1="254.19" x2="215.8" y2="254.19" stroke="#444" stroke-width="0.55"/>
<line x1="329.8" y1="254.19" x2="328.6" y2="254.19" stroke="#444" stroke-width="0.55"/>
<line x1="214.6" y1="252.9" x2="215.8" y2="252.9" stroke="#444" stroke-width="0.55"/>
<line x1="329.8" y1="252.9" x2="328.6" y2="252.9" stroke="#444" stroke-width="0.55"/>
<line x1="214.6" y1="251.78" x2="215.8" y2="251.78" stroke="#444" stroke-width="0.55"/>
<line x1="329.8" y1="251.78" x2="328.6" y2="251.78" stroke="#444" stroke-width="0.55"/>
<line x1="214.6" y1="250.79" x2="215.8" y2="250.79" stroke="#444" stroke-width="0.55"/>
<line x1="329.8" y1="250.79" x2="328.6" y2="250.79" stroke="#444" stroke-width="0.55"/>
<line x1="214.6" y1="249.9" x2="216.8" y2="249.9" stroke="#444" stroke-width="0.55"/>
<line x1="329.8" y1="249.9" x2="327.6" y2="249.9" stroke="#444" stroke-width="0.55"/>
<line x1="214.6" y1="244.08" x2="215.8" y2="244.08" stroke="#444" stroke-width="0.55"/>
<line x1="329.8" y1="244.08" x2="328.6" y2="244.08" stroke="#444" stroke-width="0.55"/>
<line x1="214.6" y1="240.67" x2="215.8" y2="240.67" stroke="#444" stroke-width="0.55"/>
<line x1="329.8" y1="240.67" x2="328.6" y2="240.67" stroke="#444" stroke-width="0.55"/>
<line x1="214.6" y1="238.25" x2="215.8" y2="238.25" stroke="#444" stroke-width="0.55"/>
<line x1="329.8" y1="238.25" x2="328.6" y2="238.25" stroke="#444" stroke-width="0.55"/>
<line x1="214.6" y1="236.37" x2="215.8" y2="236.37" stroke="#444" stroke-width="0.55"/>
<line x1="329.8" y1="236.37" x2="328.6" y2="236.37" stroke="#444" stroke-width="0.55"/>
<line x1="214.6" y1="234.84" x2="215.8" y2="234.84" stroke="#444" stroke-width="0.55"/>
<line x1="329.8" y1="234.84" x2="328.6" y2="234.84" stroke="#444" stroke-width="0.55"/>
<line x1="214.6" y1="233.55" x2="215.8" y2="233.55" stroke="#444" stroke-width="0.55"/>
<line x1="329.8" y1="233.55" x2="328.6" y2="233.55" stroke="#444" stroke-width="0.55"/>
<line x1="214.6" y1="232.43" x2="215.8" y2="232.43" stroke="#444" stroke-width="0.55"/>
<line x1="329.8" y1="232.43" x2="328.6" y2="232.43" stroke="#444" stroke-width="0.55"/>
<line x1="214.6" y1="231.44" x2="215.8" y2="231.44" stroke="#444" stroke-width="0.55"/>
<line x1="329.8" y1="231.44" x2="328.6" y2="231.44" stroke="#444" stroke-width="0.55"/>
<line x1="214.6" y1="230.55" x2="216.8" y2="230.55" stroke="#444" stroke-width="0.55"/>
<line x1="329.8" y1="230.55" x2="327.6" y2="230.55" stroke="#444" stroke-width="0.55"/>
<line x1="214.6" y1="224.73" x2="215.8" y2="224.73" stroke="#444" stroke-width="0.55"/>
<line x1="329.8" y1="224.73" x2="328.6" y2="224.73" stroke="#444" stroke-width="0.55"/>
<line x1="214.6" y1="221.32" x2="215.8" y2="221.32" stroke="#444" stroke-width="0.55"/>
<line x1="329.8" y1="221.32" x2="328.6" y2="221.32" stroke="#444" stroke-width="0.55"/>
<line x1="214.6" y1="218.9" x2="215.8" y2="218.9" stroke="#444" stroke-width="0.55"/>
<line x1="329.8" y1="218.9" x2="328.6" y2="218.9" stroke="#444" stroke-width="0.55"/>
<line x1="214.6" y1="217.02" x2="215.8" y2="217.02" stroke="#444" stroke-width="0.55"/>
<line x1="329.8" y1="217.02" x2="328.6" y2="217.02" stroke="#444" stroke-width="0.55"/>
<line x1="214.6" y1="215.49" x2="215.8" y2="215.49" stroke="#444" stroke-width="0.55"/>
<line x1="329.8" y1="215.49" x2="328.6" y2="215.49" stroke="#444" stroke-width="0.55"/>
<line x1="214.6" y1="214.2" x2="215.8" y2="214.2" stroke="#444" stroke-width="0.55"/>
<line x1="329.8" y1="214.2" x2="328.6" y2="214.2" stroke="#444" stroke-width="0.55"/>
<line x1="214.6" y1="213.08" x2="215.8" y2="213.08" stroke="#444" stroke-width="0.55"/>
<line x1="329.8" y1="213.08" x2="328.6" y2="213.08" stroke="#444" stroke-width="0.55"/>
<line x1="214.6" y1="212.09" x2="215.8" y2="212.09" stroke="#444" stroke-width="0.55"/>
<line x1="329.8" y1="212.09" x2="328.6" y2="212.09" stroke="#444" stroke-width="0.55"/>
<line x1="214.6" y1="211.2" x2="216.8" y2="211.2" stroke="#444" stroke-width="0.55"/>
<line x1="329.8" y1="211.2" x2="327.6" y2="211.2" stroke="#444" stroke-width="0.55"/>
<line x1="214.6" y1="205.38" x2="215.8" y2="205.38" stroke="#444" stroke-width="0.55"/>
<line x1="329.8" y1="205.38" x2="328.6" y2="205.38" stroke="#444" stroke-width="0.55"/>
<line x1="214.6" y1="201.97" x2="215.8" y2="201.97" stroke="#444" stroke-width="0.55"/>
<line x1="329.8" y1="201.97" x2="328.6" y2="201.97" stroke="#444" stroke-width="0.55"/>
<line x1="214.6" y1="199.55" x2="215.8" y2="199.55" stroke="#444" stroke-width="0.55"/>
<line x1="329.8" y1="199.55" x2="328.6" y2="199.55" stroke="#444" stroke-width="0.55"/>
<line x1="214.6" y1="197.67" x2="215.8" y2="197.67" stroke="#444" stroke-width="0.55"/>
<line x1="329.8" y1="197.67" x2="328.6" y2="197.67" stroke="#444" stroke-width="0.55"/>
<line x1="214.6" y1="196.14" x2="215.8" y2="196.14" stroke="#444" stroke-width="0.55"/>
<line x1="329.8" y1="196.14" x2="328.6" y2="196.14" stroke="#444" stroke-width="0.55"/>
<line x1="214.6" y1="194.85" x2="215.8" y2="194.85" stroke="#444" stroke-width="0.55"/>
<line x1="329.8" y1="194.85" x2="328.6" y2="194.85" stroke="#444" stroke-width="0.55"/>
<line x1="214.6" y1="193.73" x2="215.8" y2="193.73" stroke="#444" stroke-width="0.55"/>
<line x1="329.8" y1="193.73" x2="328.6" y2="193.73" stroke="#444" stroke-width="0.55"/>
<line x1="214.6" y1="192.74" x2="215.8" y2="192.74" stroke="#444" stroke-width="0.55"/>
<line x1="329.8" y1="192.74" x2="328.6" y2="192.74" stroke="#444" stroke-width="0.55"/>
<line x1="214.6" y1="191.85" x2="216.8" y2="191.85" stroke="#444" stroke-width="0.55"/>
<line x1="329.8" y1="191.85" x2="327.6" y2="191.85" stroke="#444" stroke-width="0.55"/>
<line x1="214.6" y1="186.03" x2="215.8" y2="186.03" stroke="#444" stroke-width="0.55"/>
<line x1="329.8" y1="186.03" x2="328.6" y2="186.03" stroke="#444" stroke-width="0.55"/>
<line x1="214.6" y1="182.62" x2="215.8" y2="182.62" stroke="#444" stroke-width="0.55"/>
<line x1="329.8" y1="182.62" x2="328.6" y2="182.62" stroke="#444" stroke-width="0.55"/>
<line x1="214.6" y1="180.2" x2="215.8" y2="180.2" stroke="#444" stroke-width="0.55"/>
<line x1="329.8" y1="180.2" x2="328.6" y2="180.2" stroke="#444" stroke-width="0.55"/>
<line x1="214.6" y1="178.32" x2="215.8" y2="178.32" stroke="#444" stroke-width="0.55"/>
<line x1="329.8" y1="178.32" x2="328.6" y2="178.32" stroke="#444" stroke-width="0.55"/>
<line x1="214.6" y1="176.79" x2="215.8" y2="176.79" stroke="#444" stroke-width="0.55"/>
<line x1="329.8" y1="176.79" x2="328.6" y2="176.79" stroke="#444" stroke-width="0.55"/>
<line x1="214.6" y1="175.5" x2="215.8" y2="175.5" stroke="#444" stroke-width="0.55"/>
<line x1="329.8" y1="175.5" x2="328.6" y2="175.5" stroke="#444" stroke-width="0.55"/>
<line x1="214.6" y1="174.38" x2="215.8" y2="174.38" stroke="#444" stroke-width="0.55"/>
<line x1="329.8" y1="174.38" x2="328.6" y2="174.38" stroke="#444" stroke-width="0.55"/>
<line x1="214.6" y1="173.39" x2="215.8" y2="173.39" stroke="#444" stroke-width="0.55"/>
<line x1="329.8" y1="173.39" x2="328.6" y2="173.39" stroke="#444" stroke-width="0.55"/>
<text x="212.3" y="291.5" font-family="Liberation Sans" font-weight="bold" font-size="8.2" fill="#111" text-anchor="end">10<tspan font-size="4.51" dy="-3.44">-2</tspan></text>
<text x="212.3" y="272.15" font-family="Liberation Sans" font-weight="bold" font-size="8.2" fill="#111" text-anchor="end">10<tspan font-size="4.51" dy="-3.44">-1</tspan></text>
<text x="212.3" y="252.8" font-family="Liberation Sans" font-weight="bold" font-size="8.2" fill="#111" text-anchor="end">10<tspan font-size="4.51" dy="-3.44">0</tspan></text>
<text x="212.3" y="233.45" font-family="Liberation Sans" font-weight="bold" font-size="8.2" fill="#111" text-anchor="end">10<tspan font-size="4.51" dy="-3.44">1</tspan></text>
<text x="212.3" y="214.1" font-family="Liberation Sans" font-weight="bold" font-size="8.2" fill="#111" text-anchor="end">10<tspan font-size="4.51" dy="-3.44">2</tspan></text>
<text x="212.3" y="194.75" font-family="Liberation Sans" font-weight="bold" font-size="8.2" fill="#111" text-anchor="end">10<tspan font-size="4.51" dy="-3.44">3</tspan></text>
<text x="212.3" y="175.4" font-family="Liberation Sans" font-weight="bold" font-size="8.2" fill="#111" text-anchor="end">10<tspan font-size="4.51" dy="-3.44">4</tspan></text>
<text x="332.5" y="291.5" font-family="Liberation Sans" font-weight="bold" font-size="8.2" fill="#111" text-anchor="start">10<tspan font-size="4.51" dy="-3.44">1</tspan></text>
<text x="332.5" y="272.15" font-family="Liberation Sans" font-weight="bold" font-size="8.2" fill="#111" text-anchor="start">10<tspan font-size="4.51" dy="-3.44">2</tspan></text>
<text x="332.5" y="252.8" font-family="Liberation Sans" font-weight="bold" font-size="8.2" fill="#111" text-anchor="start">10<tspan font-size="4.51" dy="-3.44">3</tspan></text>
<text x="332.5" y="233.45" font-family="Liberation Sans" font-weight="bold" font-size="8.2" fill="#111" text-anchor="start">10<tspan font-size="4.51" dy="-3.44">4</tspan></text>
<text x="332.5" y="214.1" font-family="Liberation Sans" font-weight="bold" font-size="8.2" fill="#111" text-anchor="start">10<tspan font-size="4.51" dy="-3.44">5</tspan></text>
<text x="332.5" y="194.75" font-family="Liberation Sans" font-weight="bold" font-size="8.2" fill="#111" text-anchor="start">10<tspan font-size="4.51" dy="-3.44">6</tspan></text>
<text x="332.5" y="175.4" font-family="Liberation Sans" font-weight="bold" font-size="8.2" fill="#111" text-anchor="start">10<tspan font-size="4.51" dy="-3.44">7</tspan></text>
<line x1="214.6" y1="288.6" x2="214.6" y2="286.4" stroke="#444" stroke-width="0.6"/>
<line x1="233.8" y1="288.6" x2="233.8" y2="287.3" stroke="#444" stroke-width="0.6"/>
<line x1="253" y1="288.6" x2="253" y2="286.4" stroke="#444" stroke-width="0.6"/>
<line x1="272.2" y1="288.6" x2="272.2" y2="287.3" stroke="#444" stroke-width="0.6"/>
<line x1="291.4" y1="288.6" x2="291.4" y2="286.4" stroke="#444" stroke-width="0.6"/>
<line x1="310.6" y1="288.6" x2="310.6" y2="287.3" stroke="#444" stroke-width="0.6"/>
<line x1="329.8" y1="288.6" x2="329.8" y2="286.4" stroke="#444" stroke-width="0.6"/>
<text x="214.6" y="298.3" font-family="Liberation Sans" font-weight="bold" font-size="7.8" fill="#111" text-anchor="middle">2</text>
<text x="253" y="298.3" font-family="Liberation Sans" font-weight="bold" font-size="7.8" fill="#111" text-anchor="middle">3</text>
<text x="291.4" y="298.3" font-family="Liberation Sans" font-weight="bold" font-size="7.8" fill="#111" text-anchor="middle">4</text>
<text x="329.8" y="298.3" font-family="Liberation Sans" font-weight="bold" font-size="7.8" fill="#111" text-anchor="middle">5</text>
<text x="261.5" y="308.5" font-family="Liberation Serif" font-weight="bold" font-size="9.6" fill="#111" textLength="22.2" lengthAdjust="spacingAndGlyphs"><tspan font-style="italic">V</tspan> (V)</text>
<text transform="translate(192.3,235.4) rotate(-90)" font-family="Liberation Serif" font-weight="bold" font-size="9.6" fill="#111" text-anchor="middle" textLength="48.7" lengthAdjust="spacingAndGlyphs"><tspan font-style="italic">J</tspan> (mA/cm<tspan font-size="5" dy="-3.3">2</tspan><tspan dy="3.3">)</tspan></text>
<text transform="translate(358.6,236.2) rotate(-90)" font-family="Liberation Serif" font-weight="bold" font-size="9.6" fill="#111" text-anchor="middle" textLength="40" lengthAdjust="spacingAndGlyphs"><tspan font-style="italic">L</tspan> (cd/m<tspan font-size="5" dy="-3.3">2</tspan><tspan dy="3.3">)</tspan></text>
<g clip-path="url(#clipe)">
<rect x="215.6" y="241.4" width="3.2" height="3.2" fill="#fff" stroke="#f08888" stroke-width="0.6"/>
<rect x="220.2" y="236.93" width="3.2" height="3.2" fill="#fff" stroke="#f08888" stroke-width="0.6"/>
<rect x="224.8" y="233.64" width="3.2" height="3.2" fill="#fff" stroke="#f08888" stroke-width="0.6"/>
<rect x="229.4" y="229.56" width="3.2" height="3.2" fill="#fff" stroke="#f08888" stroke-width="0.6"/>
<rect x="234" y="225.6" width="3.2" height="3.2" fill="#fff" stroke="#f08888" stroke-width="0.6"/>
<rect x="238.6" y="221.85" width="3.2" height="3.2" fill="#fff" stroke="#f08888" stroke-width="0.6"/>
<rect x="243.2" y="218.02" width="3.2" height="3.2" fill="#fff" stroke="#f08888" stroke-width="0.6"/>
<rect x="247.8" y="214.46" width="3.2" height="3.2" fill="#fff" stroke="#f08888" stroke-width="0.6"/>
<rect x="252.4" y="211.36" width="3.2" height="3.2" fill="#fff" stroke="#f08888" stroke-width="0.6"/>
<rect x="257" y="208.61" width="3.2" height="3.2" fill="#fff" stroke="#f08888" stroke-width="0.6"/>
<rect x="261.6" y="206.26" width="3.2" height="3.2" fill="#fff" stroke="#f08888" stroke-width="0.6"/>
<rect x="266.2" y="204.28" width="3.2" height="3.2" fill="#fff" stroke="#f08888" stroke-width="0.6"/>
<rect x="270.8" y="202.48" width="3.2" height="3.2" fill="#fff" stroke="#f08888" stroke-width="0.6"/>
<rect x="275.4" y="201.1" width="3.2" height="3.2" fill="#fff" stroke="#f08888" stroke-width="0.6"/>
<rect x="280" y="199.84" width="3.2" height="3.2" fill="#fff" stroke="#f08888" stroke-width="0.6"/>
<rect x="284.6" y="198.79" width="3.2" height="3.2" fill="#fff" stroke="#f08888" stroke-width="0.6"/>
<rect x="289.2" y="197.75" width="3.2" height="3.2" fill="#fff" stroke="#f08888" stroke-width="0.6"/>
<rect x="293.8" y="196.77" width="3.2" height="3.2" fill="#fff" stroke="#f08888" stroke-width="0.6"/>
<rect x="298.4" y="195.8" width="3.2" height="3.2" fill="#fff" stroke="#f08888" stroke-width="0.6"/>
<rect x="303" y="195.03" width="3.2" height="3.2" fill="#fff" stroke="#f08888" stroke-width="0.6"/>
<rect x="307.6" y="194.27" width="3.2" height="3.2" fill="#fff" stroke="#f08888" stroke-width="0.6"/>
<rect x="312.2" y="193.6" width="3.2" height="3.2" fill="#fff" stroke="#f08888" stroke-width="0.6"/>
<rect x="316.8" y="193.09" width="3.2" height="3.2" fill="#fff" stroke="#f08888" stroke-width="0.6"/>
<rect x="321.4" y="192.59" width="3.2" height="3.2" fill="#fff" stroke="#f08888" stroke-width="0.6"/>
<rect x="326" y="192.07" width="3.2" height="3.2" fill="#fff" stroke="#f08888" stroke-width="0.6"/>
<circle cx="217.2" cy="241" r="1.8" fill="#fff" stroke="#777" stroke-width="0.6"/>
<circle cx="221.8" cy="236.43" r="1.8" fill="#fff" stroke="#777" stroke-width="0.6"/>
<circle cx="226.4" cy="233.31" r="1.8" fill="#fff" stroke="#777" stroke-width="0.6"/>
<circle cx="231" cy="229.17" r="1.8" fill="#fff" stroke="#777" stroke-width="0.6"/>
<circle cx="235.6" cy="224.86" r="1.8" fill="#fff" stroke="#777" stroke-width="0.6"/>
<circle cx="240.2" cy="220.71" r="1.8" fill="#fff" stroke="#777" stroke-width="0.6"/>
<circle cx="244.8" cy="216.73" r="1.8" fill="#fff" stroke="#777" stroke-width="0.6"/>
<circle cx="249.4" cy="213.07" r="1.8" fill="#fff" stroke="#777" stroke-width="0.6"/>
<circle cx="254" cy="209.64" r="1.8" fill="#fff" stroke="#777" stroke-width="0.6"/>
<circle cx="258.6" cy="206.36" r="1.8" fill="#fff" stroke="#777" stroke-width="0.6"/>
<circle cx="263.2" cy="203.44" r="1.8" fill="#fff" stroke="#777" stroke-width="0.6"/>
<circle cx="267.8" cy="201.06" r="1.8" fill="#fff" stroke="#777" stroke-width="0.6"/>
<circle cx="272.4" cy="199.26" r="1.8" fill="#fff" stroke="#777" stroke-width="0.6"/>
<circle cx="277" cy="197.83" r="1.8" fill="#fff" stroke="#777" stroke-width="0.6"/>
<circle cx="281.6" cy="196.36" r="1.8" fill="#fff" stroke="#777" stroke-width="0.6"/>
<circle cx="286.2" cy="194.81" r="1.8" fill="#fff" stroke="#777" stroke-width="0.6"/>
<circle cx="290.8" cy="193.27" r="1.8" fill="#fff" stroke="#777" stroke-width="0.6"/>
<circle cx="295.4" cy="192.03" r="1.8" fill="#fff" stroke="#777" stroke-width="0.6"/>
<circle cx="300" cy="190.8" r="1.8" fill="#fff" stroke="#777" stroke-width="0.6"/>
<circle cx="304.6" cy="189.96" r="1.8" fill="#fff" stroke="#777" stroke-width="0.6"/>
<circle cx="309.2" cy="189.11" r="1.8" fill="#fff" stroke="#777" stroke-width="0.6"/>
<circle cx="313.8" cy="188.35" r="1.8" fill="#fff" stroke="#777" stroke-width="0.6"/>
<circle cx="318.4" cy="187.72" r="1.8" fill="#fff" stroke="#777" stroke-width="0.6"/>
<circle cx="323" cy="187.08" r="1.8" fill="#fff" stroke="#777" stroke-width="0.6"/>
<circle cx="327.6" cy="186.47" r="1.8" fill="#fff" stroke="#777" stroke-width="0.6"/>
<polyline points="218.75,288 223.1,288 228.75,279 233.4,273.6 237.6,268.75 242.1,263.5 247.5,258.5 252.4,254.75 257.4,251.9 262,249.4 266.9,247.5 271.3,246.3 276.1,245 280.8,244 285.3,243.1 289.7,242.3 295.2,242 300.3,241.5 304.6,241 309.4,240.8 313.9,240.5 318.3,240.3 322.8,240.1 327.9,240.1" fill="none" stroke="#ff1010" stroke-width="0.8"/>
<polyline points="236.25,288.5 240.6,283.1 245,278.3 250.6,274 255,269.75 259.4,266.5 264.4,264 270,261.4 274.8,259.9 279.2,258.6 283.7,257.7 289.1,256.7 293.5,256 298,255.3 302.8,254.8 306.9,254.3 312,253.9 317.1,253.6 321.5,253.4 326,253.2" fill="none" stroke="#111" stroke-width="0.7" stroke-dasharray="1.5,1"/>
<rect x="217.15" y="286.4" width="3.2" height="3.2" fill="#ff1010"/>
<rect x="221.5" y="286.4" width="3.2" height="3.2" fill="#ff1010"/>
<rect x="227.15" y="277.4" width="3.2" height="3.2" fill="#ff1010"/>
<rect x="231.8" y="272" width="3.2" height="3.2" fill="#ff1010"/>
<rect x="236" y="267.15" width="3.2" height="3.2" fill="#ff1010"/>
<rect x="240.5" y="261.9" width="3.2" height="3.2" fill="#ff1010"/>
<rect x="245.9" y="256.9" width="3.2" height="3.2" fill="#ff1010"/>
<rect x="250.8" y="253.15" width="3.2" height="3.2" fill="#ff1010"/>
<rect x="255.8" y="250.3" width="3.2" height="3.2" fill="#ff1010"/>
<rect x="260.4" y="247.8" width="3.2" height="3.2" fill="#ff1010"/>
<rect x="265.3" y="245.9" width="3.2" height="3.2" fill="#ff1010"/>
<rect x="269.7" y="244.7" width="3.2" height="3.2" fill="#ff1010"/>
<rect x="274.5" y="243.4" width="3.2" height="3.2" fill="#ff1010"/>
<rect x="279.2" y="242.4" width="3.2" height="3.2" fill="#ff1010"/>
<rect x="283.7" y="241.5" width="3.2" height="3.2" fill="#ff1010"/>
<rect x="288.1" y="240.7" width="3.2" height="3.2" fill="#ff1010"/>
<rect x="293.6" y="240.4" width="3.2" height="3.2" fill="#ff1010"/>
<rect x="298.7" y="239.9" width="3.2" height="3.2" fill="#ff1010"/>
<rect x="303" y="239.4" width="3.2" height="3.2" fill="#ff1010"/>
<rect x="307.8" y="239.2" width="3.2" height="3.2" fill="#ff1010"/>
<rect x="312.3" y="238.9" width="3.2" height="3.2" fill="#ff1010"/>
<rect x="316.7" y="238.7" width="3.2" height="3.2" fill="#ff1010"/>
<rect x="321.2" y="238.5" width="3.2" height="3.2" fill="#ff1010"/>
<rect x="326.3" y="238.5" width="3.2" height="3.2" fill="#ff1010"/>
<circle cx="236.25" cy="288.5" r="1.75" fill="#111"/>
<circle cx="240.6" cy="283.1" r="1.75" fill="#111"/>
<circle cx="245" cy="278.3" r="1.75" fill="#111"/>
<circle cx="250.6" cy="274" r="1.75" fill="#111"/>
<circle cx="255" cy="269.75" r="1.75" fill="#111"/>
<circle cx="259.4" cy="266.5" r="1.75" fill="#111"/>
<circle cx="264.4" cy="264" r="1.75" fill="#111"/>
<circle cx="270" cy="261.4" r="1.75" fill="#111"/>
<circle cx="274.8" cy="259.9" r="1.75" fill="#111"/>
<circle cx="279.2" cy="258.6" r="1.75" fill="#111"/>
<circle cx="283.7" cy="257.7" r="1.75" fill="#111"/>
<circle cx="289.1" cy="256.7" r="1.75" fill="#111"/>
<circle cx="293.5" cy="256" r="1.75" fill="#111"/>
<circle cx="298" cy="255.3" r="1.75" fill="#111"/>
<circle cx="302.8" cy="254.8" r="1.75" fill="#111"/>
<circle cx="306.9" cy="254.3" r="1.75" fill="#111"/>
<circle cx="312" cy="253.9" r="1.75" fill="#111"/>
<circle cx="317.1" cy="253.6" r="1.75" fill="#111"/>
<circle cx="321.5" cy="253.4" r="1.75" fill="#111"/>
<circle cx="326" cy="253.2" r="1.75" fill="#111"/>
</g>
<line x1="221" y1="184.1" x2="235.3" y2="184.1" stroke="#ff5050" stroke-width="1"/>
<circle cx="228.5" cy="184.1" r="1.9" fill="#fff" stroke="#ff5050" stroke-width="0.6"/>
<line x1="221" y1="192.3" x2="235.3" y2="192.3" stroke="#222" stroke-width="0.9"/>
<circle cx="228.5" cy="192.3" r="1.9" fill="#fff" stroke="#555" stroke-width="0.6"/>
<text x="237.2" y="185.9" font-family="Liberation Serif" font-size="7.4" fill="#111" stroke="#111" stroke-width="0.12" textLength="28" lengthAdjust="spacingAndGlyphs">thick shell</text>
<text x="237.2" y="194.5" font-family="Liberation Serif" font-size="7.4" fill="#111" stroke="#111" stroke-width="0.12" textLength="25" lengthAdjust="spacingAndGlyphs">thin shell</text>
<ellipse cx="288" cy="195.9" rx="4.3" ry="17.3" fill="none" stroke="#333" stroke-width="0.7"/>
<line x1="288" y1="212.5" x2="274" y2="212.5" stroke="#111" stroke-width="0.7"/><polygon points="271.2,212.5 274,210.96 274,214.04" fill="#111"/>
<ellipse cx="302.6" cy="244.2" rx="4.2" ry="17.1" fill="none" stroke="#333" stroke-width="0.7"/>
<line x1="302.4" y1="227.6" x2="314.8" y2="227.6" stroke="#111" stroke-width="0.7"/><polygon points="317.6,227.6 314.8,229.14 314.8,226.06" fill="#111"/>
<text x="363.2" y="169.8" font-family="Liberation Serif" font-weight="bold" font-size="14" fill="#111">f</text>
<rect x="396.1" y="172.4" width="117.5" height="119" fill="none" stroke="#333" stroke-width="1.15"/>
<line x1="396.1" y1="291.4" x2="398.3" y2="291.4" stroke="#444" stroke-width="0.55"/>
<line x1="396.1" y1="286.92" x2="397.3" y2="286.92" stroke="#444" stroke-width="0.55"/>
<line x1="396.1" y1="284.3" x2="397.3" y2="284.3" stroke="#444" stroke-width="0.55"/>
<line x1="396.1" y1="282.44" x2="397.3" y2="282.44" stroke="#444" stroke-width="0.55"/>
<line x1="396.1" y1="281" x2="397.3" y2="281" stroke="#444" stroke-width="0.55"/>
<line x1="396.1" y1="279.83" x2="397.3" y2="279.83" stroke="#444" stroke-width="0.55"/>
<line x1="396.1" y1="278.83" x2="397.3" y2="278.83" stroke="#444" stroke-width="0.55"/>
<line x1="396.1" y1="277.97" x2="397.3" y2="277.97" stroke="#444" stroke-width="0.55"/>
<line x1="396.1" y1="277.21" x2="397.3" y2="277.21" stroke="#444" stroke-width="0.55"/>
<line x1="396.1" y1="276.52" x2="398.3" y2="276.52" stroke="#444" stroke-width="0.55"/>
<line x1="396.1" y1="272.05" x2="397.3" y2="272.05" stroke="#444" stroke-width="0.55"/>
<line x1="396.1" y1="269.43" x2="397.3" y2="269.43" stroke="#444" stroke-width="0.55"/>
<line x1="396.1" y1="267.57" x2="397.3" y2="267.57" stroke="#444" stroke-width="0.55"/>
<line x1="396.1" y1="266.13" x2="397.3" y2="266.13" stroke="#444" stroke-width="0.55"/>
<line x1="396.1" y1="264.95" x2="397.3" y2="264.95" stroke="#444" stroke-width="0.55"/>
<line x1="396.1" y1="263.95" x2="397.3" y2="263.95" stroke="#444" stroke-width="0.55"/>
<line x1="396.1" y1="263.09" x2="397.3" y2="263.09" stroke="#444" stroke-width="0.55"/>
<line x1="396.1" y1="262.33" x2="397.3" y2="262.33" stroke="#444" stroke-width="0.55"/>
<line x1="396.1" y1="261.65" x2="398.3" y2="261.65" stroke="#444" stroke-width="0.55"/>
<line x1="396.1" y1="257.17" x2="397.3" y2="257.17" stroke="#444" stroke-width="0.55"/>
<line x1="396.1" y1="254.55" x2="397.3" y2="254.55" stroke="#444" stroke-width="0.55"/>
<line x1="396.1" y1="252.69" x2="397.3" y2="252.69" stroke="#444" stroke-width="0.55"/>
<line x1="396.1" y1="251.25" x2="397.3" y2="251.25" stroke="#444" stroke-width="0.55"/>
<line x1="396.1" y1="250.08" x2="397.3" y2="250.08" stroke="#444" stroke-width="0.55"/>
<line x1="396.1" y1="249.08" x2="397.3" y2="249.08" stroke="#444" stroke-width="0.55"/>
<line x1="396.1" y1="248.22" x2="397.3" y2="248.22" stroke="#444" stroke-width="0.55"/>
<line x1="396.1" y1="247.46" x2="397.3" y2="247.46" stroke="#444" stroke-width="0.55"/>
<line x1="396.1" y1="246.77" x2="398.3" y2="246.77" stroke="#444" stroke-width="0.55"/>
<line x1="396.1" y1="242.3" x2="397.3" y2="242.3" stroke="#444" stroke-width="0.55"/>
<line x1="396.1" y1="239.68" x2="397.3" y2="239.68" stroke="#444" stroke-width="0.55"/>
<line x1="396.1" y1="237.82" x2="397.3" y2="237.82" stroke="#444" stroke-width="0.55"/>
<line x1="396.1" y1="236.38" x2="397.3" y2="236.38" stroke="#444" stroke-width="0.55"/>
<line x1="396.1" y1="235.2" x2="397.3" y2="235.2" stroke="#444" stroke-width="0.55"/>
<line x1="396.1" y1="234.2" x2="397.3" y2="234.2" stroke="#444" stroke-width="0.55"/>
<line x1="396.1" y1="233.34" x2="397.3" y2="233.34" stroke="#444" stroke-width="0.55"/>
<line x1="396.1" y1="232.58" x2="397.3" y2="232.58" stroke="#444" stroke-width="0.55"/>
<line x1="396.1" y1="231.9" x2="398.3" y2="231.9" stroke="#444" stroke-width="0.55"/>
<line x1="396.1" y1="227.42" x2="397.3" y2="227.42" stroke="#444" stroke-width="0.55"/>
<line x1="396.1" y1="224.8" x2="397.3" y2="224.8" stroke="#444" stroke-width="0.55"/>
<line x1="396.1" y1="222.94" x2="397.3" y2="222.94" stroke="#444" stroke-width="0.55"/>
<line x1="396.1" y1="221.5" x2="397.3" y2="221.5" stroke="#444" stroke-width="0.55"/>
<line x1="396.1" y1="220.33" x2="397.3" y2="220.33" stroke="#444" stroke-width="0.55"/>
<line x1="396.1" y1="219.33" x2="397.3" y2="219.33" stroke="#444" stroke-width="0.55"/>
<line x1="396.1" y1="218.47" x2="397.3" y2="218.47" stroke="#444" stroke-width="0.55"/>
<line x1="396.1" y1="217.71" x2="397.3" y2="217.71" stroke="#444" stroke-width="0.55"/>
<line x1="396.1" y1="217.02" x2="398.3" y2="217.02" stroke="#444" stroke-width="0.55"/>
<line x1="396.1" y1="212.55" x2="397.3" y2="212.55" stroke="#444" stroke-width="0.55"/>
<line x1="396.1" y1="209.93" x2="397.3" y2="209.93" stroke="#444" stroke-width="0.55"/>
<line x1="396.1" y1="208.07" x2="397.3" y2="208.07" stroke="#444" stroke-width="0.55"/>
<line x1="396.1" y1="206.63" x2="397.3" y2="206.63" stroke="#444" stroke-width="0.55"/>
<line x1="396.1" y1="205.45" x2="397.3" y2="205.45" stroke="#444" stroke-width="0.55"/>
<line x1="396.1" y1="204.45" x2="397.3" y2="204.45" stroke="#444" stroke-width="0.55"/>
<line x1="396.1" y1="203.59" x2="397.3" y2="203.59" stroke="#444" stroke-width="0.55"/>
<line x1="396.1" y1="202.83" x2="397.3" y2="202.83" stroke="#444" stroke-width="0.55"/>
<line x1="396.1" y1="202.15" x2="398.3" y2="202.15" stroke="#444" stroke-width="0.55"/>
<line x1="396.1" y1="197.67" x2="397.3" y2="197.67" stroke="#444" stroke-width="0.55"/>
<line x1="396.1" y1="195.05" x2="397.3" y2="195.05" stroke="#444" stroke-width="0.55"/>
<line x1="396.1" y1="193.19" x2="397.3" y2="193.19" stroke="#444" stroke-width="0.55"/>
<line x1="396.1" y1="191.75" x2="397.3" y2="191.75" stroke="#444" stroke-width="0.55"/>
<line x1="396.1" y1="190.58" x2="397.3" y2="190.58" stroke="#444" stroke-width="0.55"/>
<line x1="396.1" y1="189.58" x2="397.3" y2="189.58" stroke="#444" stroke-width="0.55"/>
<line x1="396.1" y1="188.72" x2="397.3" y2="188.72" stroke="#444" stroke-width="0.55"/>
<line x1="396.1" y1="187.96" x2="397.3" y2="187.96" stroke="#444" stroke-width="0.55"/>
<line x1="396.1" y1="187.28" x2="398.3" y2="187.28" stroke="#444" stroke-width="0.55"/>
<line x1="396.1" y1="182.8" x2="397.3" y2="182.8" stroke="#444" stroke-width="0.55"/>
<line x1="396.1" y1="180.18" x2="397.3" y2="180.18" stroke="#444" stroke-width="0.55"/>
<line x1="396.1" y1="178.32" x2="397.3" y2="178.32" stroke="#444" stroke-width="0.55"/>
<line x1="396.1" y1="176.88" x2="397.3" y2="176.88" stroke="#444" stroke-width="0.55"/>
<line x1="396.1" y1="175.7" x2="397.3" y2="175.7" stroke="#444" stroke-width="0.55"/>
<line x1="396.1" y1="174.7" x2="397.3" y2="174.7" stroke="#444" stroke-width="0.55"/>
<line x1="396.1" y1="173.84" x2="397.3" y2="173.84" stroke="#444" stroke-width="0.55"/>
<line x1="396.1" y1="173.08" x2="397.3" y2="173.08" stroke="#444" stroke-width="0.55"/>
<line x1="513.6" y1="291.4" x2="511.4" y2="291.4" stroke="#444" stroke-width="0.55"/>
<line x1="513.6" y1="285.43" x2="512.4" y2="285.43" stroke="#444" stroke-width="0.55"/>
<line x1="513.6" y1="281.94" x2="512.4" y2="281.94" stroke="#444" stroke-width="0.55"/>
<line x1="513.6" y1="279.46" x2="512.4" y2="279.46" stroke="#444" stroke-width="0.55"/>
<line x1="513.6" y1="277.54" x2="512.4" y2="277.54" stroke="#444" stroke-width="0.55"/>
<line x1="513.6" y1="275.97" x2="512.4" y2="275.97" stroke="#444" stroke-width="0.55"/>
<line x1="513.6" y1="274.64" x2="512.4" y2="274.64" stroke="#444" stroke-width="0.55"/>
<line x1="513.6" y1="273.49" x2="512.4" y2="273.49" stroke="#444" stroke-width="0.55"/>
<line x1="513.6" y1="272.47" x2="512.4" y2="272.47" stroke="#444" stroke-width="0.55"/>
<line x1="513.6" y1="271.57" x2="511.4" y2="271.57" stroke="#444" stroke-width="0.55"/>
<line x1="513.6" y1="265.6" x2="512.4" y2="265.6" stroke="#444" stroke-width="0.55"/>
<line x1="513.6" y1="262.1" x2="512.4" y2="262.1" stroke="#444" stroke-width="0.55"/>
<line x1="513.6" y1="259.63" x2="512.4" y2="259.63" stroke="#444" stroke-width="0.55"/>
<line x1="513.6" y1="257.7" x2="512.4" y2="257.7" stroke="#444" stroke-width="0.55"/>
<line x1="513.6" y1="256.13" x2="512.4" y2="256.13" stroke="#444" stroke-width="0.55"/>
<line x1="513.6" y1="254.81" x2="512.4" y2="254.81" stroke="#444" stroke-width="0.55"/>
<line x1="513.6" y1="253.66" x2="512.4" y2="253.66" stroke="#444" stroke-width="0.55"/>
<line x1="513.6" y1="252.64" x2="512.4" y2="252.64" stroke="#444" stroke-width="0.55"/>
<line x1="513.6" y1="251.73" x2="511.4" y2="251.73" stroke="#444" stroke-width="0.55"/>
<line x1="513.6" y1="245.76" x2="512.4" y2="245.76" stroke="#444" stroke-width="0.55"/>
<line x1="513.6" y1="242.27" x2="512.4" y2="242.27" stroke="#444" stroke-width="0.55"/>
<line x1="513.6" y1="239.79" x2="512.4" y2="239.79" stroke="#444" stroke-width="0.55"/>
<line x1="513.6" y1="237.87" x2="512.4" y2="237.87" stroke="#444" stroke-width="0.55"/>
<line x1="513.6" y1="236.3" x2="512.4" y2="236.3" stroke="#444" stroke-width="0.55"/>
<line x1="513.6" y1="234.97" x2="512.4" y2="234.97" stroke="#444" stroke-width="0.55"/>
<line x1="513.6" y1="233.82" x2="512.4" y2="233.82" stroke="#444" stroke-width="0.55"/>
<line x1="513.6" y1="232.81" x2="512.4" y2="232.81" stroke="#444" stroke-width="0.55"/>
<line x1="513.6" y1="231.9" x2="511.4" y2="231.9" stroke="#444" stroke-width="0.55"/>
<line x1="513.6" y1="225.93" x2="512.4" y2="225.93" stroke="#444" stroke-width="0.55"/>
<line x1="513.6" y1="222.44" x2="512.4" y2="222.44" stroke="#444" stroke-width="0.55"/>
<line x1="513.6" y1="219.96" x2="512.4" y2="219.96" stroke="#444" stroke-width="0.55"/>
<line x1="513.6" y1="218.04" x2="512.4" y2="218.04" stroke="#444" stroke-width="0.55"/>
<line x1="513.6" y1="216.47" x2="512.4" y2="216.47" stroke="#444" stroke-width="0.55"/>
<line x1="513.6" y1="215.14" x2="512.4" y2="215.14" stroke="#444" stroke-width="0.55"/>
<line x1="513.6" y1="213.99" x2="512.4" y2="213.99" stroke="#444" stroke-width="0.55"/>
<line x1="513.6" y1="212.97" x2="512.4" y2="212.97" stroke="#444" stroke-width="0.55"/>
<line x1="513.6" y1="212.07" x2="511.4" y2="212.07" stroke="#444" stroke-width="0.55"/>
<line x1="513.6" y1="206.1" x2="512.4" y2="206.1" stroke="#444" stroke-width="0.55"/>
<line x1="513.6" y1="202.6" x2="512.4" y2="202.6" stroke="#444" stroke-width="0.55"/>
<line x1="513.6" y1="200.13" x2="512.4" y2="200.13" stroke="#444" stroke-width="0.55"/>
<line x1="513.6" y1="198.2" x2="512.4" y2="198.2" stroke="#444" stroke-width="0.55"/>
<line x1="513.6" y1="196.63" x2="512.4" y2="196.63" stroke="#444" stroke-width="0.55"/>
<line x1="513.6" y1="195.31" x2="512.4" y2="195.31" stroke="#444" stroke-width="0.55"/>
<line x1="513.6" y1="194.16" x2="512.4" y2="194.16" stroke="#444" stroke-width="0.55"/>
<line x1="513.6" y1="193.14" x2="512.4" y2="193.14" stroke="#444" stroke-width="0.55"/>
<line x1="513.6" y1="192.23" x2="511.4" y2="192.23" stroke="#444" stroke-width="0.55"/>
<line x1="513.6" y1="186.26" x2="512.4" y2="186.26" stroke="#444" stroke-width="0.55"/>
<line x1="513.6" y1="182.77" x2="512.4" y2="182.77" stroke="#444" stroke-width="0.55"/>
<line x1="513.6" y1="180.29" x2="512.4" y2="180.29" stroke="#444" stroke-width="0.55"/>
<line x1="513.6" y1="178.37" x2="512.4" y2="178.37" stroke="#444" stroke-width="0.55"/>
<line x1="513.6" y1="176.8" x2="512.4" y2="176.8" stroke="#444" stroke-width="0.55"/>
<line x1="513.6" y1="175.47" x2="512.4" y2="175.47" stroke="#444" stroke-width="0.55"/>
<line x1="513.6" y1="174.32" x2="512.4" y2="174.32" stroke="#444" stroke-width="0.55"/>
<line x1="513.6" y1="173.31" x2="512.4" y2="173.31" stroke="#444" stroke-width="0.55"/>
<text x="393.3" y="294.3" font-family="Liberation Sans" font-weight="bold" font-size="8.2" fill="#111" text-anchor="end">10<tspan font-size="4.51" dy="-3.44">-6</tspan></text>
<text x="393.3" y="264.55" font-family="Liberation Sans" font-weight="bold" font-size="8.2" fill="#111" text-anchor="end">10<tspan font-size="4.51" dy="-3.44">-4</tspan></text>
<text x="393.3" y="234.8" font-family="Liberation Sans" font-weight="bold" font-size="8.2" fill="#111" text-anchor="end">10<tspan font-size="4.51" dy="-3.44">-2</tspan></text>
<text x="393.3" y="205.05" font-family="Liberation Sans" font-weight="bold" font-size="8.2" fill="#111" text-anchor="end">10<tspan font-size="4.51" dy="-3.44">0</tspan></text>
<text x="393.3" y="175.3" font-family="Liberation Sans" font-weight="bold" font-size="8.2" fill="#111" text-anchor="end">10<tspan font-size="4.51" dy="-3.44">2</tspan></text>
<text x="516.5" y="294.3" font-family="Liberation Sans" font-weight="bold" font-size="8.2" fill="#111" text-anchor="start">10<tspan font-size="4.51" dy="-3.44">-3</tspan></text>
<text x="516.5" y="254.63" font-family="Liberation Sans" font-weight="bold" font-size="8.2" fill="#111" text-anchor="start">10<tspan font-size="4.51" dy="-3.44">-1</tspan></text>
<text x="516.5" y="214.97" font-family="Liberation Sans" font-weight="bold" font-size="8.2" fill="#111" text-anchor="start">10<tspan font-size="4.51" dy="-3.44">1</tspan></text>
<text x="516.5" y="175.3" font-family="Liberation Sans" font-weight="bold" font-size="8.2" fill="#111" text-anchor="start">10<tspan font-size="4.51" dy="-3.44">3</tspan></text>
<line x1="396.1" y1="291.4" x2="396.1" y2="289.2" stroke="#444" stroke-width="0.55"/>
<line x1="409.74" y1="291.4" x2="409.74" y2="290.2" stroke="#444" stroke-width="0.55"/>
<line x1="417.71" y1="291.4" x2="417.71" y2="290.2" stroke="#444" stroke-width="0.55"/>
<line x1="423.37" y1="291.4" x2="423.37" y2="290.2" stroke="#444" stroke-width="0.55"/>
<line x1="427.76" y1="291.4" x2="427.76" y2="290.2" stroke="#444" stroke-width="0.55"/>
<line x1="431.35" y1="291.4" x2="431.35" y2="290.2" stroke="#444" stroke-width="0.55"/>
<line x1="434.38" y1="291.4" x2="434.38" y2="290.2" stroke="#444" stroke-width="0.55"/>
<line x1="437.01" y1="291.4" x2="437.01" y2="290.2" stroke="#444" stroke-width="0.55"/>
<line x1="439.33" y1="291.4" x2="439.33" y2="290.2" stroke="#444" stroke-width="0.55"/>
<line x1="441.4" y1="291.4" x2="441.4" y2="289.2" stroke="#444" stroke-width="0.55"/>
<line x1="455.04" y1="291.4" x2="455.04" y2="290.2" stroke="#444" stroke-width="0.55"/>
<line x1="463.01" y1="291.4" x2="463.01" y2="290.2" stroke="#444" stroke-width="0.55"/>
<line x1="468.67" y1="291.4" x2="468.67" y2="290.2" stroke="#444" stroke-width="0.55"/>
<line x1="473.06" y1="291.4" x2="473.06" y2="290.2" stroke="#444" stroke-width="0.55"/>
<line x1="476.65" y1="291.4" x2="476.65" y2="290.2" stroke="#444" stroke-width="0.55"/>
<line x1="479.68" y1="291.4" x2="479.68" y2="290.2" stroke="#444" stroke-width="0.55"/>
<line x1="482.31" y1="291.4" x2="482.31" y2="290.2" stroke="#444" stroke-width="0.55"/>
<line x1="484.63" y1="291.4" x2="484.63" y2="290.2" stroke="#444" stroke-width="0.55"/>
<line x1="486.7" y1="291.4" x2="486.7" y2="289.2" stroke="#444" stroke-width="0.55"/>
<line x1="500.34" y1="291.4" x2="500.34" y2="290.2" stroke="#444" stroke-width="0.55"/>
<line x1="508.31" y1="291.4" x2="508.31" y2="290.2" stroke="#444" stroke-width="0.55"/>
<text x="397.6" y="301.5" font-family="Liberation Sans" font-weight="bold" font-size="8.2" fill="#111" text-anchor="middle">10<tspan font-size="4.51" dy="-3.44">1</tspan></text>
<text x="442.9" y="301.5" font-family="Liberation Sans" font-weight="bold" font-size="8.2" fill="#111" text-anchor="middle">10<tspan font-size="4.51" dy="-3.44">2</tspan></text>
<text x="488.2" y="301.5" font-family="Liberation Sans" font-weight="bold" font-size="8.2" fill="#111" text-anchor="middle">10<tspan font-size="4.51" dy="-3.44">3</tspan></text>
<text x="434.2" y="315" font-family="Liberation Serif" font-weight="bold" font-size="9.6" fill="#111" textLength="40.7" lengthAdjust="spacingAndGlyphs"><tspan font-style="italic">L</tspan> (cd/m<tspan font-size="5" dy="-3.3">2</tspan><tspan dy="3.3">)</tspan></text>
<text transform="translate(375.4,240.5) rotate(-90)" font-family="Liberation Serif" font-weight="bold" font-size="9.6" fill="#111" text-anchor="middle" textLength="38.7" lengthAdjust="spacingAndGlyphs"><tspan font-style="italic">η</tspan><tspan font-size="5" dy="2" font-style="italic">A</tspan><tspan dy="-2"> (cd/A)</tspan></text>
<text transform="translate(544.2,217.5) rotate(-90)" font-family="Liberation Serif" font-weight="bold" font-size="9.6" fill="#111" text-anchor="middle" textLength="30" lengthAdjust="spacingAndGlyphs"><tspan font-style="italic">η</tspan><tspan font-size="5" dy="2" font-style="italic">EQE</tspan><tspan dy="-2"> (%)</tspan></text>
<path d="M398.75,209.6 C401.98,209.18 412.74,207.7 418.1,207.1 C423.46,206.5 426.85,206.3 430.9,206 C434.95,205.7 438.43,205.57 442.4,205.3 C446.37,205.03 450.78,204.65 454.7,204.4 C458.62,204.15 462.65,203.92 465.9,203.8 C469.15,203.68 471.53,203.72 474.2,203.7 C476.87,203.68 478.82,203.68 481.9,203.7 C484.98,203.72 489.68,203.72 492.7,203.8 C495.72,203.88 497.88,203.97 500,204.2 C502.12,204.43 503.97,204.73 505.4,205.2 C506.83,205.67 507.97,206.37 508.6,207 C509.23,207.63 509.47,208.32 509.2,209 C508.93,209.68 507.37,210.75 507,211.1" fill="none" stroke="#ff2a2a" stroke-width="0.9"/>
<path d="M398.1,222.3 C399.92,222.28 405.02,222.43 409,222.2 C412.98,221.97 417.87,221.32 422,220.9 C426.13,220.48 430.2,219.98 433.8,219.7 C437.4,219.42 440.2,219.35 443.6,219.2 C447,219.05 451.3,218.88 454.2,218.8 C457.1,218.72 458.88,218.72 461,218.7 C463.12,218.68 464.92,218.7 466.9,218.7 C468.88,218.7 471.15,218.7 472.9,218.7 C474.65,218.7 475.72,218.55 477.4,218.7 C479.08,218.85 481.33,219.12 483,219.6 C484.67,220.08 486.17,220.77 487.4,221.6 C488.63,222.43 489.93,223.55 490.4,224.6 C490.87,225.65 490.23,227.35 490.2,227.9" fill="none" stroke="#333" stroke-width="0.9"/>
<path d="M398.1,248.7 C401.45,248.02 412.73,245.57 418.2,244.6 C423.67,243.63 426.87,243.33 430.9,242.9 C434.93,242.47 438.48,242.25 442.4,242 C446.32,241.75 450.38,241.72 454.4,241.4 C458.42,241.08 463.1,240.38 466.5,240.1 C469.9,239.82 472.25,239.78 474.8,239.7 C477.35,239.62 478.93,239.58 481.8,239.6 C484.67,239.62 488.97,239.63 492,239.8 C495.03,239.97 497.92,240.17 500,240.6 C502.08,241.03 503.27,241.58 504.5,242.4 C505.73,243.22 506.85,244.48 507.4,245.5 C507.95,246.52 507.8,247.62 507.8,248.5 C507.8,249.38 507.47,250.42 507.4,250.8" fill="none" stroke="#ff0000" stroke-width="0.9"/>
<path d="M397.5,265 C399.42,264.93 404.92,264.9 409,264.6 C413.08,264.3 417.93,263.63 422,263.2 C426.07,262.77 429.8,262.3 433.4,262 C437,261.7 440.2,261.67 443.6,261.4 C447,261.13 450.93,260.55 453.8,260.4 C456.67,260.25 458.57,260.47 460.8,260.5 C463.03,260.53 465.25,260.53 467.2,260.6 C469.15,260.67 470.7,260.77 472.5,260.9 C474.3,261.03 476.33,261.18 478,261.4 C479.67,261.62 481.08,261.73 482.5,262.2 C483.92,262.67 485.32,263.3 486.5,264.2 C487.68,265.1 488.98,266.17 489.6,267.6 C490.22,269.03 490.1,271.93 490.2,272.8" fill="none" stroke="#111" stroke-width="0.9"/>
<circle cx="398.75" cy="209.6" r="1.7" fill="#fff" stroke="#ff4444" stroke-width="0.6"/>
<circle cx="418.1" cy="207.1" r="1.7" fill="#fff" stroke="#ff4444" stroke-width="0.6"/>
<circle cx="430.9" cy="206" r="1.7" fill="#fff" stroke="#ff4444" stroke-width="0.6"/>
<circle cx="442.4" cy="205.3" r="1.7" fill="#fff" stroke="#ff4444" stroke-width="0.6"/>
<circle cx="454.7" cy="204.4" r="1.7" fill="#fff" stroke="#ff4444" stroke-width="0.6"/>
<circle cx="465.9" cy="203.8" r="1.7" fill="#fff" stroke="#ff4444" stroke-width="0.6"/>
<circle cx="474.2" cy="203.7" r="1.7" fill="#fff" stroke="#ff4444" stroke-width="0.6"/>
<circle cx="481.9" cy="203.7" r="1.7" fill="#fff" stroke="#ff4444" stroke-width="0.6"/>
<rect x="485.4" y="202.25" width="3" height="3" fill="#fff" stroke="#ff4444" stroke-width="0.6"/>
<rect x="489.4" y="202.28" width="3" height="3" fill="#fff" stroke="#ff4444" stroke-width="0.6"/>
<rect x="492.6" y="202.38" width="3" height="3" fill="#fff" stroke="#ff4444" stroke-width="0.6"/>
<rect x="495.15" y="202.52" width="3" height="3" fill="#fff" stroke="#ff4444" stroke-width="0.6"/>
<rect x="497.2" y="202.63" width="3" height="3" fill="#fff" stroke="#ff4444" stroke-width="0.6"/>
<rect x="498.83" y="202.76" width="3" height="3" fill="#fff" stroke="#ff4444" stroke-width="0.6"/>
<rect x="500.12" y="203" width="3" height="3" fill="#fff" stroke="#ff4444" stroke-width="0.6"/>
<rect x="501.15" y="203.19" width="3" height="3" fill="#fff" stroke="#ff4444" stroke-width="0.6"/>
<rect x="501.97" y="203.34" width="3" height="3" fill="#fff" stroke="#ff4444" stroke-width="0.6"/>
<rect x="502.63" y="203.47" width="3" height="3" fill="#fff" stroke="#ff4444" stroke-width="0.6"/>
<rect x="503.22" y="203.57" width="3" height="3" fill="#fff" stroke="#ff4444" stroke-width="0.6"/>
<rect x="503.81" y="203.68" width="3" height="3" fill="#fff" stroke="#ff4444" stroke-width="0.6"/>
<rect x="504.35" y="203.95" width="3" height="3" fill="#fff" stroke="#ff4444" stroke-width="0.6"/>
<rect x="504.87" y="204.25" width="3" height="3" fill="#fff" stroke="#ff4444" stroke-width="0.6"/>
<rect x="505.39" y="204.54" width="3" height="3" fill="#fff" stroke="#ff4444" stroke-width="0.6"/>
<rect x="505.92" y="204.83" width="3" height="3" fill="#fff" stroke="#ff4444" stroke-width="0.6"/>
<rect x="506.44" y="205.13" width="3" height="3" fill="#fff" stroke="#ff4444" stroke-width="0.6"/>
<rect x="506.96" y="205.42" width="3" height="3" fill="#fff" stroke="#ff4444" stroke-width="0.6"/>
<rect x="507.23" y="205.92" width="3" height="3" fill="#fff" stroke="#ff4444" stroke-width="0.6"/>
<rect x="507.4" y="206.5" width="3" height="3" fill="#fff" stroke="#ff4444" stroke-width="0.6"/>
<rect x="507.57" y="207.07" width="3" height="3" fill="#fff" stroke="#ff4444" stroke-width="0.6"/>
<rect x="507.59" y="207.61" width="3" height="3" fill="#fff" stroke="#ff4444" stroke-width="0.6"/>
<rect x="507.16" y="208.02" width="3" height="3" fill="#fff" stroke="#ff4444" stroke-width="0.6"/>
<rect x="506.72" y="208.43" width="3" height="3" fill="#fff" stroke="#ff4444" stroke-width="0.6"/>
<rect x="506.29" y="208.85" width="3" height="3" fill="#fff" stroke="#ff4444" stroke-width="0.6"/>
<rect x="505.85" y="209.26" width="3" height="3" fill="#fff" stroke="#ff4444" stroke-width="0.6"/>
<rect x="505.5" y="209.6" width="3" height="3" fill="#fff" stroke="#ff4444" stroke-width="0.6"/>
<circle cx="398.1" cy="222.3" r="1.7" fill="#fff" stroke="#555" stroke-width="0.6"/>
<circle cx="409" cy="222.2" r="1.7" fill="#fff" stroke="#555" stroke-width="0.6"/>
<circle cx="422" cy="220.9" r="1.7" fill="#fff" stroke="#555" stroke-width="0.6"/>
<circle cx="433.8" cy="219.7" r="1.7" fill="#fff" stroke="#555" stroke-width="0.6"/>
<circle cx="443.6" cy="219.2" r="1.7" fill="#fff" stroke="#555" stroke-width="0.6"/>
<circle cx="454.2" cy="218.8" r="1.7" fill="#fff" stroke="#555" stroke-width="0.6"/>
<circle cx="461" cy="218.7" r="1.7" fill="#fff" stroke="#555" stroke-width="0.6"/>
<circle cx="466.9" cy="218.7" r="1.7" fill="#fff" stroke="#555" stroke-width="0.6"/>
<circle cx="472.9" cy="218.7" r="1.7" fill="#fff" stroke="#555" stroke-width="0.6"/>
<circle cx="477.5" cy="218.72" r="1.7" fill="#fff" stroke="#555" stroke-width="0.6"/>
<circle cx="481.13" cy="219.3" r="1.7" fill="#fff" stroke="#555" stroke-width="0.6"/>
<circle cx="483.96" cy="220.04" r="1.7" fill="#fff" stroke="#555" stroke-width="0.6"/>
<circle cx="486.1" cy="221.01" r="1.7" fill="#fff" stroke="#555" stroke-width="0.6"/>
<circle cx="487.72" cy="221.92" r="1.7" fill="#fff" stroke="#555" stroke-width="0.6"/>
<circle cx="488.79" cy="222.99" r="1.7" fill="#fff" stroke="#555" stroke-width="0.6"/>
<circle cx="489.64" cy="223.84" r="1.7" fill="#fff" stroke="#555" stroke-width="0.6"/>
<circle cx="490.32" cy="224.52" r="1.7" fill="#fff" stroke="#555" stroke-width="0.6"/>
<circle cx="490.36" cy="225.26" r="1.7" fill="#fff" stroke="#555" stroke-width="0.6"/>
<circle cx="490.32" cy="225.88" r="1.7" fill="#fff" stroke="#555" stroke-width="0.6"/>
<circle cx="490.29" cy="226.48" r="1.7" fill="#fff" stroke="#555" stroke-width="0.6"/>
<circle cx="490.25" cy="227.08" r="1.7" fill="#fff" stroke="#555" stroke-width="0.6"/>
<circle cx="490.21" cy="227.68" r="1.7" fill="#fff" stroke="#555" stroke-width="0.6"/>
<circle cx="490.2" cy="227.9" r="1.7" fill="#fff" stroke="#555" stroke-width="0.6"/>
<rect x="396.4" y="247" width="3.4" height="3.4" fill="#ff0000"/>
<rect x="416.5" y="242.9" width="3.4" height="3.4" fill="#ff0000"/>
<rect x="429.2" y="241.2" width="3.4" height="3.4" fill="#ff0000"/>
<rect x="440.7" y="240.3" width="3.4" height="3.4" fill="#ff0000"/>
<rect x="452.7" y="239.7" width="3.4" height="3.4" fill="#ff0000"/>
<rect x="464.8" y="238.4" width="3.4" height="3.4" fill="#ff0000"/>
<rect x="473.1" y="238" width="3.4" height="3.4" fill="#ff0000"/>
<rect x="480.1" y="237.9" width="3.4" height="3.4" fill="#ff0000"/>
<rect x="485.1" y="238" width="3.4" height="3.4" fill="#ff0000"/>
<rect x="489.1" y="238.08" width="3.4" height="3.4" fill="#ff0000"/>
<rect x="492.29" y="238.3" width="3.4" height="3.4" fill="#ff0000"/>
<rect x="494.84" y="238.55" width="3.4" height="3.4" fill="#ff0000"/>
<rect x="496.87" y="238.76" width="3.4" height="3.4" fill="#ff0000"/>
<rect x="498.49" y="238.98" width="3.4" height="3.4" fill="#ff0000"/>
<rect x="499.71" y="239.46" width="3.4" height="3.4" fill="#ff0000"/>
<rect x="500.68" y="239.85" width="3.4" height="3.4" fill="#ff0000"/>
<rect x="501.46" y="240.16" width="3.4" height="3.4" fill="#ff0000"/>
<rect x="502.08" y="240.41" width="3.4" height="3.4" fill="#ff0000"/>
<rect x="502.64" y="240.64" width="3.4" height="3.4" fill="#ff0000"/>
<rect x="503.09" y="241.01" width="3.4" height="3.4" fill="#ff0000"/>
<rect x="503.5" y="241.45" width="3.4" height="3.4" fill="#ff0000"/>
<rect x="503.91" y="241.89" width="3.4" height="3.4" fill="#ff0000"/>
<rect x="504.32" y="242.33" width="3.4" height="3.4" fill="#ff0000"/>
<rect x="504.73" y="242.76" width="3.4" height="3.4" fill="#ff0000"/>
<rect x="505.14" y="243.2" width="3.4" height="3.4" fill="#ff0000"/>
<rect x="505.55" y="243.64" width="3.4" height="3.4" fill="#ff0000"/>
<rect x="505.75" y="244.18" width="3.4" height="3.4" fill="#ff0000"/>
<rect x="505.83" y="244.77" width="3.4" height="3.4" fill="#ff0000"/>
<rect x="505.91" y="245.37" width="3.4" height="3.4" fill="#ff0000"/>
<rect x="505.99" y="245.96" width="3.4" height="3.4" fill="#ff0000"/>
<rect x="506.07" y="246.56" width="3.4" height="3.4" fill="#ff0000"/>
<rect x="506.04" y="247.15" width="3.4" height="3.4" fill="#ff0000"/>
<rect x="505.94" y="247.74" width="3.4" height="3.4" fill="#ff0000"/>
<rect x="505.83" y="248.33" width="3.4" height="3.4" fill="#ff0000"/>
<rect x="505.73" y="248.92" width="3.4" height="3.4" fill="#ff0000"/>
<rect x="505.7" y="249.1" width="3.4" height="3.4" fill="#ff0000"/>
<circle cx="397.5" cy="265" r="1.8" fill="#111"/>
<circle cx="409" cy="264.6" r="1.8" fill="#111"/>
<circle cx="422" cy="263.2" r="1.8" fill="#111"/>
<circle cx="433.4" cy="262" r="1.8" fill="#111"/>
<circle cx="443.6" cy="261.4" r="1.8" fill="#111"/>
<circle cx="453.8" cy="260.4" r="1.8" fill="#111"/>
<circle cx="460.8" cy="260.5" r="1.8" fill="#111"/>
<circle cx="467.2" cy="260.6" r="1.8" fill="#111"/>
<circle cx="472.5" cy="260.9" r="1.8" fill="#111"/>
<circle cx="476.88" cy="261.3" r="1.8" fill="#111"/>
<circle cx="480.36" cy="261.82" r="1.8" fill="#111"/>
<circle cx="483.07" cy="262.49" r="1.8" fill="#111"/>
<circle cx="485.09" cy="263.49" r="1.8" fill="#111"/>
<circle cx="486.65" cy="264.37" r="1.8" fill="#111"/>
<circle cx="487.62" cy="265.43" r="1.8" fill="#111"/>
<circle cx="488.4" cy="266.28" r="1.8" fill="#111"/>
<circle cx="489.02" cy="266.97" r="1.8" fill="#111"/>
<circle cx="489.52" cy="267.51" r="1.8" fill="#111"/>
<circle cx="489.66" cy="268.08" r="1.8" fill="#111"/>
<circle cx="489.72" cy="268.67" r="1.8" fill="#111"/>
<circle cx="489.79" cy="269.27" r="1.8" fill="#111"/>
<circle cx="489.86" cy="269.87" r="1.8" fill="#111"/>
<circle cx="489.93" cy="270.46" r="1.8" fill="#111"/>
<circle cx="490" cy="271.06" r="1.8" fill="#111"/>
<circle cx="490.07" cy="271.65" r="1.8" fill="#111"/>
<circle cx="490.14" cy="272.25" r="1.8" fill="#111"/>
<circle cx="490.2" cy="272.8" r="1.8" fill="#111"/>
<line x1="402.5" y1="183.2" x2="417" y2="183.2" stroke="#ff3030" stroke-width="0.9"/>
<circle cx="409.8" cy="183.2" r="1.9" fill="#fff" stroke="#ff3030" stroke-width="0.6"/>
<line x1="402.5" y1="191.9" x2="417" y2="191.9" stroke="#333" stroke-width="0.9"/>
<circle cx="409.8" cy="191.9" r="1.9" fill="#fff" stroke="#555" stroke-width="0.6"/>
<text x="418.8" y="185.5" font-family="Liberation Serif" font-size="7.4" fill="#111" stroke="#111" stroke-width="0.12" textLength="29" lengthAdjust="spacingAndGlyphs">thick shell</text>
<text x="418.8" y="194.1" font-family="Liberation Serif" font-size="7.4" fill="#111" stroke="#111" stroke-width="0.12" textLength="25.7" lengthAdjust="spacingAndGlyphs">thin shell</text>
<ellipse cx="471.6" cy="209.1" rx="4.5" ry="17" fill="none" stroke="#333" stroke-width="0.7"/>
<line x1="471.6" y1="192.2" x2="457.8" y2="192.2" stroke="#111" stroke-width="0.7"/><polygon points="455,192.2 457.8,190.66 457.8,193.74" fill="#111"/>
<ellipse cx="437.4" cy="253" rx="4.6" ry="17" fill="none" stroke="#333" stroke-width="0.7"/>
<line x1="437.5" y1="270" x2="451.2" y2="270" stroke="#111" stroke-width="0.7"/><polygon points="454,270 451.2,271.54 451.2,268.46" fill="#111"/>
</svg></body></html>
